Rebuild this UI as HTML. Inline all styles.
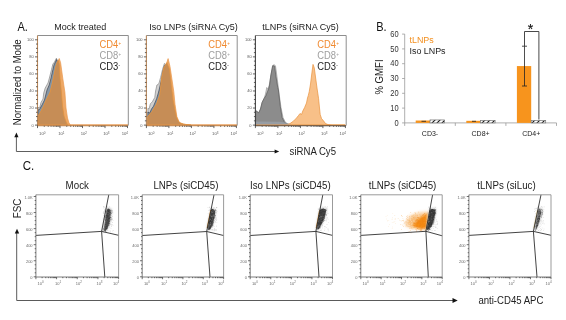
<!DOCTYPE html>
<html><head><meta charset="utf-8"><style>
html,body{margin:0;padding:0;background:#fff;width:566px;height:320px;overflow:hidden;}
svg{display:block;font-family:"Liberation Sans", sans-serif;filter:blur(0.3px);}
</style></head><body>
<svg width="566" height="320" viewBox="0 0 566 320">
<rect width="566" height="320" fill="#fff"/>
<path d="M37.90,125.0 L37.90,107.50 L39.75,107.50 L41.00,102.50 L43.00,99.00 L43.75,93.00 L45.20,88.00 L48.00,83.00 L49.40,78.00 L51.50,69.50 L52.90,64.00 L54.50,62.00 L56.40,58.20 L57.50,61.00 L59.00,66.00 L61.00,80.00 L63.00,104.00 L65.00,125.00 L65.00,125.0 Z" fill="#d0d0d0" stroke="#8a8a8a" stroke-width="0.7" fill-opacity="1"/>
<path d="M37.90,125.0 L37.90,110.00 L39.50,109.50 L42.00,105.00 L44.50,100.00 L46.00,94.00 L47.00,90.00 L49.20,85.00 L50.80,79.00 L52.60,71.00 L54.00,65.00 L55.50,62.00 L56.60,59.50 L57.50,62.00 L59.00,66.00 L61.00,80.00 L63.00,104.00 L65.00,125.00 L65.00,125.0 Z" fill="#8696a4" stroke="#3c4450" stroke-width="0.7" fill-opacity="1"/>
<path d="M37.90,125.0 L37.90,116.00 L39.00,115.30 L43.50,106.75 L46.60,99.50 L50.10,92.75 L52.20,84.30 L54.30,74.40 L55.70,67.40 L57.50,62.00 L59.25,58.50 L60.60,62.70 L62.75,78.20 L64.90,92.25 L66.00,108.00 L67.50,118.00 L69.00,123.00 L70.50,125.00 L128.00,125.00 L128.00,125.0 Z" fill="#eea865" stroke="#e99a50" stroke-width="0.7" fill-opacity="1"/>
<path d="M37.90,125.0 L37.90,115.50 L39.00,114.80 L43.50,106.25 L46.60,99.00 L50.10,92.25 L52.20,83.80 L54.30,73.90 L55.70,66.90 L57.20,62.00 L58.30,60.50 L59.20,64.00 L60.00,78.20 L61.40,92.25 L62.50,106.00 L64.00,116.00 L66.50,123.00 L68.00,125.00 L68.00,125.0 Z" fill="#c48c56" stroke="#e0903e" stroke-width="0.7" fill-opacity="0.97"/>
<path d="M37.5,35.5 H128.3 V125.6" fill="none" stroke="#7a7a7a" stroke-width="0.85"/>
<path d="M37.5,35.5 V125.6 H128.0" fill="none" stroke="#b8875a" stroke-width="1.1"/>
<path d="M35.00,125.10 H37.5 M36.00,120.83 H37.5 M36.00,116.57 H37.5 M36.00,112.30 H37.5 M35.00,108.04 H37.5 M36.00,103.77 H37.5 M36.00,99.51 H37.5 M36.00,95.24 H37.5 M35.00,90.98 H37.5 M36.00,86.72 H37.5 M36.00,82.45 H37.5 M36.00,78.19 H37.5 M35.00,73.92 H37.5 M36.00,69.66 H37.5 M36.00,65.39 H37.5 M36.00,61.12 H37.5 M35.00,56.86 H37.5 M36.00,52.59 H37.5 M36.00,48.33 H37.5 M36.00,44.06 H37.5 M35.00,39.80 H37.5 M37.50,125.6 V128.10 M44.27,125.6 V126.80 M48.24,125.6 V126.80 M51.05,125.6 V126.80 M53.23,125.6 V126.80 M55.01,125.6 V126.80 M56.51,125.6 V126.80 M57.82,125.6 V126.80 M58.97,125.6 V126.80 M60.00,125.6 V128.10 M66.77,125.6 V126.80 M70.74,125.6 V126.80 M73.55,125.6 V126.80 M75.73,125.6 V126.80 M77.51,125.6 V126.80 M79.01,125.6 V126.80 M80.32,125.6 V126.80 M81.47,125.6 V126.80 M82.50,125.6 V128.10 M89.27,125.6 V126.80 M93.24,125.6 V126.80 M96.05,125.6 V126.80 M98.23,125.6 V126.80 M100.01,125.6 V126.80 M101.51,125.6 V126.80 M102.82,125.6 V126.80 M103.97,125.6 V126.80 M105.00,125.6 V128.10 M111.77,125.6 V126.80 M115.74,125.6 V126.80 M118.55,125.6 V126.80 M120.73,125.6 V126.80 M122.51,125.6 V126.80 M124.01,125.6 V126.80 M125.32,125.6 V126.80 M126.47,125.6 V126.80 M127.50,125.6 V128.10 " stroke="#333" stroke-width="0.75" fill="none"/>
<path d="M38.1,125.1 H128.0" stroke="#eb9a50" stroke-width="0.7" fill="none" opacity="0.9"/>
<text transform="translate(33.70 126.50) scale(1 1.09)" font-size="4.0" fill="#5a5a5a" text-anchor="end" >0</text>
<text transform="translate(33.70 109.44) scale(1 1.09)" font-size="4.0" fill="#5a5a5a" text-anchor="end" >20</text>
<text transform="translate(33.70 92.38) scale(1 1.09)" font-size="4.0" fill="#5a5a5a" text-anchor="end" >40</text>
<text transform="translate(33.70 75.32) scale(1 1.09)" font-size="4.0" fill="#5a5a5a" text-anchor="end" >60</text>
<text transform="translate(33.70 58.26) scale(1 1.09)" font-size="4.0" fill="#5a5a5a" text-anchor="end" >80</text>
<text transform="translate(33.70 41.20) scale(1 1.09)" font-size="4.0" fill="#5a5a5a" text-anchor="end" >100</text>
<text x="39.10" y="135.40" font-size="4.2" fill="#5a5a5a">10<tspan dy="-1.8" font-size="3.0">0</tspan></text>
<text x="58.20" y="135.40" font-size="4.2" fill="#5a5a5a">10<tspan dy="-1.8" font-size="3.0">1</tspan></text>
<text x="80.70" y="135.40" font-size="4.2" fill="#5a5a5a">10<tspan dy="-1.8" font-size="3.0">2</tspan></text>
<text x="103.20" y="135.40" font-size="4.2" fill="#5a5a5a">10<tspan dy="-1.8" font-size="3.0">3</tspan></text>
<text x="121.70" y="135.40" font-size="4.2" fill="#5a5a5a">10<tspan dy="-1.8" font-size="3.0">4</tspan></text>
<text transform="translate(80.20 30.20) scale(1 1.09)" font-size="9.0" fill="#222" text-anchor="middle" >Mock treated</text>
<text transform="translate(99.40 47.60) scale(1 1.09)" font-size="9.4" fill="#f08a30" text-anchor="start" >CD4<tspan dx="0.2" dy="-2.6" font-size="4.6">+</tspan></text>
<text transform="translate(99.40 59.30) scale(1 1.09)" font-size="9.4" fill="#9e9e9e" text-anchor="start" >CD8<tspan dx="0.2" dy="-2.6" font-size="4.6">+</tspan></text>
<text transform="translate(99.40 69.70) scale(1 1.09)" font-size="9.4" fill="#222" text-anchor="start" >CD3<tspan dx="0.2" dy="-2.6" font-size="4.6">-</tspan></text>
<path d="M147.90,125.0 L147.90,108.50 L149.10,108.75 L150.40,103.75 L152.25,101.90 L154.75,97.50 L155.60,91.00 L156.90,85.00 L158.75,84.00 L160.60,77.50 L162.50,69.50 L164.40,63.50 L166.00,64.50 L168.00,72.00 L170.00,85.00 L172.00,104.00 L174.00,125.00 L174.00,125.0 Z" fill="#d0d0d0" stroke="#8a8a8a" stroke-width="0.7" fill-opacity="1"/>
<path d="M147.90,125.0 L147.90,112.00 L149.75,113.10 L151.50,109.00 L153.50,106.25 L156.60,98.75 L158.30,93.00 L159.10,90.00 L160.00,86.00 L161.50,79.50 L163.00,71.00 L164.60,65.50 L166.00,66.00 L168.00,74.00 L170.00,90.00 L172.00,108.00 L174.00,125.00 L174.00,125.0 Z" fill="#8696a4" stroke="#3c4450" stroke-width="0.7" fill-opacity="1"/>
<path d="M147.90,125.0 L147.90,116.75 L152.25,111.75 L156.60,104.25 L159.75,95.50 L160.50,90.50 L161.50,79.50 L163.75,68.25 L166.50,63.50 L168.10,58.60 L170.00,66.50 L171.90,79.00 L173.75,91.50 L175.00,104.25 L176.90,116.75 L179.40,122.40 L183.75,124.25 L191.25,125.00 L237.00,125.00 L237.00,125.0 Z" fill="#eea865" stroke="#e99a50" stroke-width="0.7" fill-opacity="1"/>
<path d="M147.90,125.0 L147.90,116.25 L152.25,111.25 L156.60,103.75 L159.75,95.00 L160.50,90.00 L161.50,79.00 L163.75,67.75 L166.90,62.75 L169.40,69.00 L170.60,79.00 L171.90,90.25 L173.10,100.00 L175.00,110.00 L176.50,117.00 L178.50,121.50 L181.00,123.50 L186.00,124.50 L191.00,125.00 L191.00,125.0 Z" fill="#c48c56" stroke="#e0903e" stroke-width="0.7" fill-opacity="0.97"/>
<path d="M146.4,35.5 H237.20000000000002 V125.6" fill="none" stroke="#7a7a7a" stroke-width="0.85"/>
<path d="M146.4,35.5 V125.6 H236.9" fill="none" stroke="#b8875a" stroke-width="1.1"/>
<path d="M143.90,125.10 H146.4 M144.90,120.83 H146.4 M144.90,116.57 H146.4 M144.90,112.30 H146.4 M143.90,108.04 H146.4 M144.90,103.77 H146.4 M144.90,99.51 H146.4 M144.90,95.24 H146.4 M143.90,90.98 H146.4 M144.90,86.72 H146.4 M144.90,82.45 H146.4 M144.90,78.19 H146.4 M143.90,73.92 H146.4 M144.90,69.66 H146.4 M144.90,65.39 H146.4 M144.90,61.12 H146.4 M143.90,56.86 H146.4 M144.90,52.59 H146.4 M144.90,48.33 H146.4 M144.90,44.06 H146.4 M143.90,39.80 H146.4 M146.40,125.6 V128.10 M153.17,125.6 V126.80 M157.14,125.6 V126.80 M159.95,125.6 V126.80 M162.13,125.6 V126.80 M163.91,125.6 V126.80 M165.41,125.6 V126.80 M166.72,125.6 V126.80 M167.87,125.6 V126.80 M168.90,125.6 V128.10 M175.67,125.6 V126.80 M179.64,125.6 V126.80 M182.45,125.6 V126.80 M184.63,125.6 V126.80 M186.41,125.6 V126.80 M187.91,125.6 V126.80 M189.22,125.6 V126.80 M190.37,125.6 V126.80 M191.40,125.6 V128.10 M198.17,125.6 V126.80 M202.14,125.6 V126.80 M204.95,125.6 V126.80 M207.13,125.6 V126.80 M208.91,125.6 V126.80 M210.41,125.6 V126.80 M211.72,125.6 V126.80 M212.87,125.6 V126.80 M213.90,125.6 V128.10 M220.67,125.6 V126.80 M224.64,125.6 V126.80 M227.45,125.6 V126.80 M229.63,125.6 V126.80 M231.41,125.6 V126.80 M232.91,125.6 V126.80 M234.22,125.6 V126.80 M235.37,125.6 V126.80 M236.40,125.6 V128.10 " stroke="#333" stroke-width="0.75" fill="none"/>
<path d="M147.0,125.1 H236.9" stroke="#eb9a50" stroke-width="0.7" fill="none" opacity="0.9"/>
<text transform="translate(142.60 126.50) scale(1 1.09)" font-size="4.0" fill="#5a5a5a" text-anchor="end" >0</text>
<text transform="translate(142.60 109.44) scale(1 1.09)" font-size="4.0" fill="#5a5a5a" text-anchor="end" >20</text>
<text transform="translate(142.60 92.38) scale(1 1.09)" font-size="4.0" fill="#5a5a5a" text-anchor="end" >40</text>
<text transform="translate(142.60 75.32) scale(1 1.09)" font-size="4.0" fill="#5a5a5a" text-anchor="end" >60</text>
<text transform="translate(142.60 58.26) scale(1 1.09)" font-size="4.0" fill="#5a5a5a" text-anchor="end" >80</text>
<text transform="translate(142.60 41.20) scale(1 1.09)" font-size="4.0" fill="#5a5a5a" text-anchor="end" >100</text>
<text x="148.00" y="135.40" font-size="4.2" fill="#5a5a5a">10<tspan dy="-1.8" font-size="3.0">0</tspan></text>
<text x="167.10" y="135.40" font-size="4.2" fill="#5a5a5a">10<tspan dy="-1.8" font-size="3.0">1</tspan></text>
<text x="189.60" y="135.40" font-size="4.2" fill="#5a5a5a">10<tspan dy="-1.8" font-size="3.0">2</tspan></text>
<text x="212.10" y="135.40" font-size="4.2" fill="#5a5a5a">10<tspan dy="-1.8" font-size="3.0">3</tspan></text>
<text x="230.60" y="135.40" font-size="4.2" fill="#5a5a5a">10<tspan dy="-1.8" font-size="3.0">4</tspan></text>
<text transform="translate(193.50 30.20) scale(1 1.09)" font-size="9.0" fill="#222" text-anchor="middle" >Iso LNPs (siRNA Cy5)</text>
<text transform="translate(208.30 47.60) scale(1 1.09)" font-size="9.4" fill="#f08a30" text-anchor="start" >CD4<tspan dx="0.2" dy="-2.6" font-size="4.6">+</tspan></text>
<text transform="translate(208.30 59.30) scale(1 1.09)" font-size="9.4" fill="#9e9e9e" text-anchor="start" >CD8<tspan dx="0.2" dy="-2.6" font-size="4.6">+</tspan></text>
<text transform="translate(208.30 69.70) scale(1 1.09)" font-size="9.4" fill="#222" text-anchor="start" >CD3<tspan dx="0.2" dy="-2.6" font-size="4.6">-</tspan></text>
<path d="M255.60,125.0 L255.60,110.50 L258.70,112.80 L260.50,109.00 L262.10,102.50 L264.10,98.40 L265.50,94.00 L266.75,87.50 L268.00,89.50 L269.25,85.00 L270.50,77.50 L272.50,66.25 L274.00,64.50 L275.50,66.00 L276.75,75.00 L278.00,85.00 L279.25,95.00 L281.00,107.50 L283.00,117.50 L285.50,122.50 L289.25,124.50 L291.00,125.00 L291.00,125.0 Z" fill="#c8c8c8" stroke="#9a9a9a" stroke-width="0.7" fill-opacity="1"/>
<path d="M255.60,125.0 L255.60,110.50 L258.70,112.80 L260.50,109.00 L262.10,102.50 L264.10,98.40 L265.80,96.00 L267.50,91.50 L268.60,89.00 L269.60,85.00 L270.90,75.00 L272.75,65.60 L274.60,66.25 L275.90,76.25 L277.75,87.50 L278.40,90.00 L280.25,106.25 L282.10,117.50 L284.60,122.50 L287.75,124.40 L290.00,125.00 L290.00,125.0 Z" fill="#8c8c8c" stroke="#5a5a5a" stroke-width="0.7" fill-opacity="1"/>
<path d="M255.40,125.0 L255.40,125.00 L286.00,124.80 L290.00,123.60 L293.60,121.00 L296.50,118.00 L298.50,115.50 L300.00,113.50 L301.50,114.50 L302.80,111.00 L304.60,107.50 L306.50,103.00 L307.50,98.00 L308.30,95.50 L309.25,91.50 L310.50,84.00 L311.75,74.00 L313.00,64.40 L314.30,68.00 L315.50,77.00 L317.00,88.00 L318.60,98.75 L319.50,108.00 L320.20,114.40 L321.50,118.50 L323.30,120.60 L325.50,123.50 L328.00,124.60 L332.00,125.00 L345.00,125.00 L345.00,125.0 Z" fill="#f8c088" stroke="#e8923e" stroke-width="0.7" fill-opacity="1"/>
<path d="M255.6,121.5 L280,121.8 L286,122.8 L291,124.6 L291,125 L255.6,125 Z" fill="#a0acb8" opacity="0.55"/>
<path d="M255.4,35.5 H346.2 V125.6" fill="none" stroke="#7a7a7a" stroke-width="0.85"/>
<path d="M255.4,35.5 V125.6 H345.9" fill="none" stroke="#444" stroke-width="1.1"/>
<path d="M252.90,125.10 H255.4 M253.90,120.83 H255.4 M253.90,116.57 H255.4 M253.90,112.30 H255.4 M252.90,108.04 H255.4 M253.90,103.77 H255.4 M253.90,99.51 H255.4 M253.90,95.24 H255.4 M252.90,90.98 H255.4 M253.90,86.72 H255.4 M253.90,82.45 H255.4 M253.90,78.19 H255.4 M252.90,73.92 H255.4 M253.90,69.66 H255.4 M253.90,65.39 H255.4 M253.90,61.12 H255.4 M252.90,56.86 H255.4 M253.90,52.59 H255.4 M253.90,48.33 H255.4 M253.90,44.06 H255.4 M252.90,39.80 H255.4 M255.40,125.6 V128.10 M262.17,125.6 V126.80 M266.14,125.6 V126.80 M268.95,125.6 V126.80 M271.13,125.6 V126.80 M272.91,125.6 V126.80 M274.41,125.6 V126.80 M275.72,125.6 V126.80 M276.87,125.6 V126.80 M277.90,125.6 V128.10 M284.67,125.6 V126.80 M288.64,125.6 V126.80 M291.45,125.6 V126.80 M293.63,125.6 V126.80 M295.41,125.6 V126.80 M296.91,125.6 V126.80 M298.22,125.6 V126.80 M299.37,125.6 V126.80 M300.40,125.6 V128.10 M307.17,125.6 V126.80 M311.14,125.6 V126.80 M313.95,125.6 V126.80 M316.13,125.6 V126.80 M317.91,125.6 V126.80 M319.41,125.6 V126.80 M320.72,125.6 V126.80 M321.87,125.6 V126.80 M322.90,125.6 V128.10 M329.67,125.6 V126.80 M333.64,125.6 V126.80 M336.45,125.6 V126.80 M338.63,125.6 V126.80 M340.41,125.6 V126.80 M341.91,125.6 V126.80 M343.22,125.6 V126.80 M344.37,125.6 V126.80 M345.40,125.6 V128.10 " stroke="#333" stroke-width="0.75" fill="none"/>
<path d="M256.0,125.1 H345.9" stroke="#eb9a50" stroke-width="0.7" fill="none" opacity="0.9"/>
<text transform="translate(251.60 126.50) scale(1 1.09)" font-size="4.0" fill="#5a5a5a" text-anchor="end" >0</text>
<text transform="translate(251.60 109.44) scale(1 1.09)" font-size="4.0" fill="#5a5a5a" text-anchor="end" >20</text>
<text transform="translate(251.60 92.38) scale(1 1.09)" font-size="4.0" fill="#5a5a5a" text-anchor="end" >40</text>
<text transform="translate(251.60 75.32) scale(1 1.09)" font-size="4.0" fill="#5a5a5a" text-anchor="end" >60</text>
<text transform="translate(251.60 58.26) scale(1 1.09)" font-size="4.0" fill="#5a5a5a" text-anchor="end" >80</text>
<text transform="translate(251.60 41.20) scale(1 1.09)" font-size="4.0" fill="#5a5a5a" text-anchor="end" >100</text>
<text x="257.00" y="135.40" font-size="4.2" fill="#5a5a5a">10<tspan dy="-1.8" font-size="3.0">0</tspan></text>
<text x="276.10" y="135.40" font-size="4.2" fill="#5a5a5a">10<tspan dy="-1.8" font-size="3.0">1</tspan></text>
<text x="298.60" y="135.40" font-size="4.2" fill="#5a5a5a">10<tspan dy="-1.8" font-size="3.0">2</tspan></text>
<text x="321.10" y="135.40" font-size="4.2" fill="#5a5a5a">10<tspan dy="-1.8" font-size="3.0">3</tspan></text>
<text x="339.60" y="135.40" font-size="4.2" fill="#5a5a5a">10<tspan dy="-1.8" font-size="3.0">4</tspan></text>
<text transform="translate(300.50 30.20) scale(1 1.09)" font-size="9.0" fill="#222" text-anchor="middle" >tLNPs (siRNA Cy5)</text>
<text transform="translate(317.30 47.60) scale(1 1.09)" font-size="9.4" fill="#f08a30" text-anchor="start" >CD4<tspan dx="0.2" dy="-2.6" font-size="4.6">+</tspan></text>
<text transform="translate(317.30 59.30) scale(1 1.09)" font-size="9.4" fill="#9e9e9e" text-anchor="start" >CD8<tspan dx="0.2" dy="-2.6" font-size="4.6">+</tspan></text>
<text transform="translate(317.30 69.70) scale(1 1.09)" font-size="9.4" fill="#222" text-anchor="start" >CD3<tspan dx="0.2" dy="-2.6" font-size="4.6">-</tspan></text>
<text transform="translate(17.50 30.60) scale(1 1.09)" font-size="11" fill="#111" text-anchor="start" >A.</text>
<text transform="translate(21.20 125.20) rotate(-90) scale(1 1.09)" font-size="9.6" fill="#222" text-anchor="start" >Normalized to Mode</text>
<path d="M16.4,151.5 V136.5 M16.4,151.5 H275" stroke="#555" stroke-width="0.95" fill="none"/>
<path d="M16.4,132.6 L14.3,137.2 L18.5,137.2 Z" fill="#111"/>
<path d="M279.2,151.5 L274.6,149.4 L274.6,153.6 Z" fill="#111"/>
<text transform="translate(289.60 155.10) scale(1 1.09)" font-size="9.6" fill="#222" text-anchor="start" >siRNA Cy5</text>
<text transform="translate(376.20 30.50) scale(1 1.09)" font-size="11" fill="#111" text-anchor="start" >B.</text>
<path d="M404.7,34.10000000000001 V122.9 H556.5" stroke="#999" stroke-width="0.8" fill="none"/>
<path d="M402.09999999999997,122.90 H404.7 M402.09999999999997,108.10 H404.7 M402.09999999999997,93.30 H404.7 M402.09999999999997,78.50 H404.7 M402.09999999999997,63.70 H404.7 M402.09999999999997,48.90 H404.7 M402.09999999999997,34.10 H404.7 M404.70,122.9 V125.9 M455.30,122.9 V125.9 M505.90,122.9 V125.9 M556.50,122.9 V125.9 " stroke="#999" stroke-width="0.8" fill="none"/>
<text transform="translate(398.60 125.50) scale(1 1.09)" font-size="7.5" fill="#333" text-anchor="end" >0</text>
<text transform="translate(398.60 110.70) scale(1 1.09)" font-size="7.5" fill="#333" text-anchor="end" >10</text>
<text transform="translate(398.60 95.90) scale(1 1.09)" font-size="7.5" fill="#333" text-anchor="end" >20</text>
<text transform="translate(398.60 81.10) scale(1 1.09)" font-size="7.5" fill="#333" text-anchor="end" >30</text>
<text transform="translate(398.60 66.30) scale(1 1.09)" font-size="7.5" fill="#333" text-anchor="end" >40</text>
<text transform="translate(398.60 51.50) scale(1 1.09)" font-size="7.5" fill="#333" text-anchor="end" >50</text>
<text transform="translate(398.60 36.70) scale(1 1.09)" font-size="7.5" fill="#333" text-anchor="end" >60</text>
<text transform="translate(382.90 94.60) rotate(-90) scale(1 1.09)" font-size="9.6" fill="#222" text-anchor="start" >% GMFI</text>
<text transform="translate(409.50 43.00) scale(1 1.09)" font-size="8.9" fill="#f39020" text-anchor="start" >tLNPs</text>
<text transform="translate(409.50 54.20) scale(1 1.09)" font-size="8.9" fill="#222" text-anchor="start" >Iso LNPs</text>
<defs><pattern id="hatch" width="5" height="5" patternUnits="userSpaceOnUse"><rect width="5" height="5" fill="#fff"/><path d="M-1,1 L1,-1 M0,5 L5,0 M4,6 L6,4" stroke="#111" stroke-width="1.1"/></pattern></defs>
<rect x="415.70" y="120.53" width="14.3" height="2.37" fill="#f7941d"/>
<rect x="430.00" y="119.94" width="14.5" height="2.96" fill="url(#hatch)" stroke="#777" stroke-width="0.7"/>
<text transform="translate(430.00 135.90) scale(1 1.09)" font-size="7.0" fill="#222" text-anchor="middle" >CD3-</text>
<rect x="466.30" y="120.83" width="14.3" height="2.07" fill="#f7941d"/>
<rect x="480.60" y="120.38" width="14.5" height="2.52" fill="url(#hatch)" stroke="#777" stroke-width="0.7"/>
<text transform="translate(480.60 135.90) scale(1 1.09)" font-size="7.0" fill="#222" text-anchor="middle" >CD8+</text>
<rect x="516.90" y="66.07" width="14.3" height="56.83" fill="#f7941d"/>
<rect x="531.20" y="120.53" width="14.5" height="2.37" fill="url(#hatch)" stroke="#777" stroke-width="0.7"/>
<text transform="translate(531.20 135.90) scale(1 1.09)" font-size="7.0" fill="#222" text-anchor="middle" >CD4+</text>
<path d="M421.5,121.3 H426 M472,121.3 H476" stroke="#222" stroke-width="0.8"/>
<path d="M524.5,46.2 V86 M522,46.2 H527 M522,86 H527" stroke="#222" stroke-width="0.8" fill="none"/>
<path d="M524.5,46.2 V31.5 H538.9 V119.5" stroke="#333" stroke-width="0.9" fill="none"/>
<text transform="translate(530.40 33.90) scale(1 1.0)" font-size="14" fill="#111" text-anchor="middle" stroke="#111" stroke-width="0.15">*</text>
<text transform="translate(22.80 169.80) scale(1 1.09)" font-size="11.5" fill="#111" text-anchor="start" >C.</text>
<defs><filter id="bl" x="-30%" y="-30%" width="160%" height="160%"><feGaussianBlur stdDeviation="0.55"/></filter><filter id="bl2" x="-30%" y="-30%" width="160%" height="160%"><feGaussianBlur stdDeviation="1.6"/></filter><filter id="bl3" x="-30%" y="-30%" width="160%" height="160%"><feGaussianBlur stdDeviation="1.0"/></filter></defs>
<polygon points="106.1,208.8 108.4,207.6 111.4,209.0 111.8,211.5 110.8,219.0 109.6,224.5 107.0,229.5 104.2,232.2 102.2,231.2 103.3,225.0" fill="#8a8a8a" fill-opacity="0.55" filter="url(#bl3)"/>
<polygon points="106.7,209.7 108.4,208.6 110.6,209.9 110.9,212.2 110.1,219.1 109.2,224.1 107.3,228.7 105.3,231.2 103.8,230.3 104.6,224.6" fill="#424242" fill-opacity="0.95" filter="url(#bl)"/>
<path d="M107.2,227.7h.8v.8h-.8zM103.2,228.5h.8v.8h-.8zM109.9,217.3h.8v.8h-.8zM108.9,217.9h.8v.8h-.8zM109.0,221.2h.8v.8h-.8zM106.9,216.5h.8v.8h-.8zM105.4,215.2h.8v.8h-.8zM107.6,218.7h.8v.8h-.8zM111.5,210.3h.8v.8h-.8zM105.5,215.7h.8v.8h-.8zM108.2,215.4h.8v.8h-.8zM106.6,211.9h.8v.8h-.8zM110.7,218.6h.8v.8h-.8zM108.5,209.5h.8v.8h-.8zM111.5,211.6h.8v.8h-.8zM105.4,217.0h.8v.8h-.8zM108.6,212.6h.8v.8h-.8zM105.0,231.0h.8v.8h-.8zM106.3,211.2h.8v.8h-.8zM109.3,219.5h.8v.8h-.8zM111.0,213.2h.8v.8h-.8zM108.7,224.4h.8v.8h-.8zM103.4,228.6h.8v.8h-.8zM105.9,225.9h.8v.8h-.8zM108.0,210.7h.8v.8h-.8zM110.5,220.5h.8v.8h-.8zM107.0,215.2h.8v.8h-.8zM105.7,212.4h.8v.8h-.8zM107.6,210.2h.8v.8h-.8zM106.0,215.4h.8v.8h-.8zM104.8,219.3h.8v.8h-.8zM109.2,222.9h.8v.8h-.8zM105.9,220.9h.8v.8h-.8zM108.2,218.2h.8v.8h-.8zM104.0,229.4h.8v.8h-.8zM107.5,213.1h.8v.8h-.8zM106.1,228.0h.8v.8h-.8zM105.8,215.8h.8v.8h-.8zM107.2,213.3h.8v.8h-.8zM103.8,227.9h.8v.8h-.8zM108.1,211.1h.8v.8h-.8zM108.5,224.9h.8v.8h-.8zM109.5,213.6h.8v.8h-.8zM105.9,220.6h.8v.8h-.8zM110.6,216.9h.8v.8h-.8zM108.3,215.9h.8v.8h-.8zM105.3,216.5h.8v.8h-.8zM107.5,220.5h.8v.8h-.8zM109.5,214.0h.8v.8h-.8zM108.9,216.2h.8v.8h-.8zM109.8,217.1h.8v.8h-.8zM110.5,219.3h.8v.8h-.8zM106.7,215.9h.8v.8h-.8z" fill="#2a2a2a" fill-opacity="0.6"/>
<path d="M106.1,210.0h.7v.7h-.7zM103.3,219.3h.6v.6h-.6zM107.3,207.9h.6v.6h-.6zM105.1,222.5h.7v.7h-.7zM108.8,216.5h.7v.7h-.7zM104.2,209.2h.6v.6h-.6zM111.4,210.8h.7v.7h-.7zM109.5,215.8h.7v.7h-.7zM103.4,207.7h.6v.6h-.6zM111.1,224.3h.6v.6h-.6zM108.8,219.8h.7v.7h-.7zM110.4,213.6h.7v.7h-.7zM104.3,218.9h.6v.6h-.6zM105.7,216.2h.7v.7h-.7zM102.9,218.2h.6v.6h-.6zM106.5,229.2h.7v.7h-.7zM104.3,210.7h.6v.6h-.6zM105.2,218.8h.7v.7h-.7zM106.6,220.9h.7v.7h-.7zM110.0,219.6h.7v.7h-.7zM109.4,207.7h.6v.6h-.6zM104.9,210.3h.6v.6h-.6zM103.3,206.1h.6v.6h-.6zM103.8,215.6h.6v.6h-.6zM112.0,222.1h.6v.6h-.6zM104.0,228.3h.7v.7h-.7zM103.8,215.0h.6v.6h-.6zM112.8,219.9h.6v.6h-.6zM106.2,211.9h.7v.7h-.7zM111.4,225.4h.6v.6h-.6zM103.0,213.4h.6v.6h-.6zM109.6,227.0h.6v.6h-.6zM111.1,214.8h.7v.7h-.7zM112.7,225.0h.6v.6h-.6zM111.2,209.9h.7v.7h-.7zM105.8,212.4h.7v.7h-.7zM104.5,218.5h.7v.7h-.7zM108.6,214.6h.7v.7h-.7zM108.6,226.6h.6v.6h-.6zM109.2,219.3h.7v.7h-.7zM110.0,217.9h.7v.7h-.7zM112.0,230.7h.6v.6h-.6zM103.5,212.4h.6v.6h-.6zM104.3,224.8h.7v.7h-.7zM104.2,229.1h.7v.7h-.7zM107.4,206.6h.6v.6h-.6zM103.8,213.0h.6v.6h-.6zM103.5,230.6h.7v.7h-.7zM106.3,220.5h.7v.7h-.7zM105.2,209.0h.6v.6h-.6zM103.2,211.4h.6v.6h-.6zM102.9,212.6h.6v.6h-.6zM107.7,230.5h.6v.6h-.6zM110.0,231.7h.6v.6h-.6zM105.4,210.4h.6v.6h-.6zM108.5,212.5h.7v.7h-.7zM106.7,218.5h.7v.7h-.7zM103.1,206.7h.6v.6h-.6zM105.2,221.4h.7v.7h-.7zM112.0,216.3h.6v.6h-.6zM111.3,209.7h.7v.7h-.7zM109.9,224.2h.6v.6h-.6zM103.8,227.9h.7v.7h-.7zM109.4,222.4h.7v.7h-.7zM110.6,219.2h.7v.7h-.7zM105.4,208.0h.6v.6h-.6zM110.4,211.5h.7v.7h-.7zM107.8,223.9h.7v.7h-.7zM110.0,223.7h.6v.6h-.6zM113.1,230.5h.6v.6h-.6zM107.6,227.5h.7v.7h-.7zM104.1,227.5h.7v.7h-.7zM112.1,224.5h.6v.6h-.6zM112.2,218.8h.6v.6h-.6zM105.9,209.8h.6v.6h-.6zM110.7,228.0h.6v.6h-.6zM112.6,212.6h.6v.6h-.6zM110.5,217.9h.7v.7h-.7zM106.3,213.9h.7v.7h-.7zM104.5,210.3h.6v.6h-.6zM112.3,219.1h.6v.6h-.6zM104.2,211.1h.6v.6h-.6zM106.3,208.5h.6v.6h-.6zM105.4,221.0h.7v.7h-.7zM111.8,211.7h.6v.6h-.6zM105.3,208.9h.6v.6h-.6zM108.2,223.9h.7v.7h-.7zM111.0,212.2h.7v.7h-.7zM105.4,222.7h.7v.7h-.7zM109.1,206.4h.6v.6h-.6zM112.1,218.5h.6v.6h-.6zM109.8,230.2h.6v.6h-.6zM109.9,211.3h.7v.7h-.7zM109.8,230.9h.6v.6h-.6zM106.9,211.7h.7v.7h-.7zM104.2,207.5h.6v.6h-.6zM106.9,229.5h.7v.7h-.7zM106.2,210.9h.7v.7h-.7zM104.5,206.2h.6v.6h-.6zM106.4,231.0h.6v.6h-.6zM111.3,226.1h.6v.6h-.6zM105.4,225.6h.7v.7h-.7zM106.3,213.2h.7v.7h-.7zM109.2,212.9h.7v.7h-.7z" fill="#a0a0a0" fill-opacity="0.6"/>
<path d="M108.75,194.8 L101.6,231.4 L104.8,277.0 M35.9,235.4 L101.6,231.4 L118.6,235.3" stroke="#222" stroke-width="0.85" fill="none"/>
<path d="M35.9,194.8 H118.6 V277.0" fill="none" stroke="#909090" stroke-width="0.9"/><path d="M35.9,194.8 V277.0 H118.6" fill="none" stroke="#707070" stroke-width="0.9"/>
<path d="M33.70,276.80 H35.9 M34.70,272.79 H35.9 M34.70,268.77 H35.9 M34.70,264.75 H35.9 M33.70,260.74 H35.9 M34.70,256.73 H35.9 M34.70,252.71 H35.9 M34.70,248.69 H35.9 M33.70,244.68 H35.9 M34.70,240.67 H35.9 M34.70,236.65 H35.9 M34.70,232.63 H35.9 M33.70,228.62 H35.9 M34.70,224.61 H35.9 M34.70,220.59 H35.9 M34.70,216.57 H35.9 M33.70,212.56 H35.9 M34.70,208.55 H35.9 M34.70,204.53 H35.9 M34.70,200.51 H35.9 M33.70,196.50 H35.9 M35.90,277.0 V279.20 M42.12,277.0 V278.20 M45.76,277.0 V278.20 M48.35,277.0 V278.20 M50.35,277.0 V278.20 M51.99,277.0 V278.20 M53.37,277.0 V278.20 M54.57,277.0 V278.20 M55.63,277.0 V278.20 M56.57,277.0 V279.20 M62.80,277.0 V278.20 M66.44,277.0 V278.20 M69.02,277.0 V278.20 M71.03,277.0 V278.20 M72.66,277.0 V278.20 M74.05,277.0 V278.20 M75.25,277.0 V278.20 M76.30,277.0 V278.20 M77.25,277.0 V279.20 M83.47,277.0 V278.20 M87.11,277.0 V278.20 M89.70,277.0 V278.20 M91.70,277.0 V278.20 M93.34,277.0 V278.20 M94.72,277.0 V278.20 M95.92,277.0 V278.20 M96.98,277.0 V278.20 M97.92,277.0 V279.20 M104.15,277.0 V278.20 M107.79,277.0 V278.20 M110.37,277.0 V278.20 M112.38,277.0 V278.20 M114.01,277.0 V278.20 M115.40,277.0 V278.20 M116.60,277.0 V278.20 M117.65,277.0 V278.20 M118.60,277.0 V279.20 " stroke="#333" stroke-width="0.7" fill="none"/>
<text transform="translate(32.60 279.00) scale(1 1.09)" font-size="4.0" fill="#6a6a6a" text-anchor="end" >0</text>
<text transform="translate(32.60 262.94) scale(1 1.09)" font-size="4.0" fill="#6a6a6a" text-anchor="end" >200</text>
<text transform="translate(32.60 246.88) scale(1 1.09)" font-size="4.0" fill="#6a6a6a" text-anchor="end" >400</text>
<text transform="translate(32.60 230.82) scale(1 1.09)" font-size="4.0" fill="#6a6a6a" text-anchor="end" >600</text>
<text transform="translate(32.60 214.76) scale(1 1.09)" font-size="4.0" fill="#6a6a6a" text-anchor="end" >800</text>
<text transform="translate(32.60 198.70) scale(1 1.09)" font-size="4.0" fill="#6a6a6a" text-anchor="end" >1.0K</text>
<text x="37.60" y="285.00" font-size="4.0" fill="#6a6a6a">10<tspan dy="-1.6" font-size="3.0">0</tspan></text>
<text x="55.07" y="285.00" font-size="4.0" fill="#6a6a6a">10<tspan dy="-1.6" font-size="3.0">1</tspan></text>
<text x="75.75" y="285.00" font-size="4.0" fill="#6a6a6a">10<tspan dy="-1.6" font-size="3.0">2</tspan></text>
<text x="96.42" y="285.00" font-size="4.0" fill="#6a6a6a">10<tspan dy="-1.6" font-size="3.0">3</tspan></text>
<text x="113.10" y="285.00" font-size="4.0" fill="#6a6a6a">10<tspan dy="-1.6" font-size="3.0">4</tspan></text>
<text transform="translate(77.25 189.20) scale(1 1.09)" font-size="9.75" fill="#222" text-anchor="middle" >Mock</text>
<path d="M210.7,210 L207.1,228" stroke="#e0902a" stroke-width="1.0" filter="url(#bl)"/>
<polygon points="211.0,209.0 213.0,208.2 215.4,209.6 215.6,213.5 214.0,220.5 212.3,226.0 210.0,229.6 207.6,230.8 207.1,228.0 208.4,221.0" fill="#8a8a8a" fill-opacity="0.55" filter="url(#bl3)"/>
<polygon points="211.3,209.8 212.9,209.1 214.8,210.4 215.0,214.0 213.7,220.4 212.3,225.5 210.5,228.8 208.6,229.9 208.2,227.3 209.2,220.9" fill="#3e3e3e" fill-opacity="0.95" filter="url(#bl)"/>
<path d="M210.6,213.3h.8v.8h-.8zM211.3,212.8h.8v.8h-.8zM214.3,217.5h.8v.8h-.8zM211.6,221.6h.8v.8h-.8zM208.8,227.0h.8v.8h-.8zM209.1,228.0h.8v.8h-.8zM213.3,221.6h.8v.8h-.8zM211.1,210.1h.8v.8h-.8zM210.0,221.1h.8v.8h-.8zM214.0,211.2h.8v.8h-.8zM209.5,225.9h.8v.8h-.8zM212.8,222.1h.8v.8h-.8zM209.2,223.5h.8v.8h-.8zM210.6,220.4h.8v.8h-.8zM211.6,226.5h.8v.8h-.8zM211.1,218.9h.8v.8h-.8zM208.1,229.0h.8v.8h-.8zM209.1,225.6h.8v.8h-.8zM212.5,215.9h.8v.8h-.8zM208.0,226.9h.8v.8h-.8zM213.3,220.0h.8v.8h-.8zM210.5,216.8h.8v.8h-.8zM211.6,222.6h.8v.8h-.8zM212.1,209.3h.8v.8h-.8zM211.7,208.9h.8v.8h-.8zM209.1,228.3h.8v.8h-.8zM215.3,210.2h.8v.8h-.8zM212.4,214.4h.8v.8h-.8zM215.1,209.5h.8v.8h-.8zM211.3,225.9h.8v.8h-.8zM213.2,222.7h.8v.8h-.8zM213.5,217.1h.8v.8h-.8zM211.0,209.3h.8v.8h-.8zM209.7,220.8h.8v.8h-.8zM209.5,221.7h.8v.8h-.8zM208.9,229.3h.8v.8h-.8zM212.9,215.1h.8v.8h-.8zM210.0,228.5h.8v.8h-.8zM212.6,216.5h.8v.8h-.8zM208.2,225.5h.8v.8h-.8zM209.5,221.4h.8v.8h-.8zM210.5,213.9h.8v.8h-.8zM212.0,224.6h.8v.8h-.8zM210.1,220.0h.8v.8h-.8zM209.6,221.7h.8v.8h-.8zM208.6,229.1h.8v.8h-.8zM214.4,215.6h.8v.8h-.8zM211.7,225.3h.8v.8h-.8zM209.4,218.6h.8v.8h-.8zM212.3,209.3h.8v.8h-.8zM208.4,225.7h.8v.8h-.8zM208.4,228.1h.8v.8h-.8zM209.8,217.8h.8v.8h-.8zM210.9,214.6h.8v.8h-.8zM213.1,209.7h.8v.8h-.8zM210.7,219.3h.8v.8h-.8zM209.5,222.1h.8v.8h-.8zM209.6,216.1h.8v.8h-.8zM211.4,225.8h.8v.8h-.8zM212.4,221.9h.8v.8h-.8zM208.9,221.2h.8v.8h-.8zM210.6,221.8h.8v.8h-.8zM213.6,212.7h.8v.8h-.8zM211.9,221.7h.8v.8h-.8zM209.6,223.2h.8v.8h-.8zM211.6,223.5h.8v.8h-.8zM213.6,218.0h.8v.8h-.8zM212.0,213.8h.8v.8h-.8zM208.8,226.8h.8v.8h-.8zM210.0,217.0h.8v.8h-.8zM209.9,214.0h.8v.8h-.8zM211.7,222.1h.8v.8h-.8zM215.0,215.0h.8v.8h-.8zM212.6,224.6h.8v.8h-.8zM212.3,218.7h.8v.8h-.8zM212.0,220.3h.8v.8h-.8zM211.1,218.1h.8v.8h-.8zM214.9,211.8h.8v.8h-.8zM210.4,226.6h.8v.8h-.8zM212.4,213.2h.8v.8h-.8zM210.7,214.3h.8v.8h-.8z" fill="#2a2a2a" fill-opacity="0.6"/>
<path d="M216.6,207.3h.6v.6h-.6zM212.3,229.1h.6v.6h-.6zM214.9,221.3h.6v.6h-.6zM210.6,215.4h.7v.7h-.7zM209.9,208.3h.6v.6h-.6zM212.8,214.6h.7v.7h-.7zM216.0,230.5h.6v.6h-.6zM213.0,215.7h.7v.7h-.7zM209.5,212.7h.6v.6h-.6zM210.7,216.2h.7v.7h-.7zM212.4,212.3h.7v.7h-.7zM213.8,230.6h.6v.6h-.6zM216.3,207.7h.6v.6h-.6zM215.8,217.5h.6v.6h-.6zM215.0,229.5h.6v.6h-.6zM209.5,207.0h.6v.6h-.6zM210.3,214.1h.7v.7h-.7zM211.1,211.5h.7v.7h-.7zM216.0,217.8h.6v.6h-.6zM210.3,219.3h.7v.7h-.7zM216.8,211.5h.6v.6h-.6zM211.4,227.1h.7v.7h-.7zM209.9,224.2h.7v.7h-.7zM212.3,212.4h.7v.7h-.7zM215.0,217.7h.6v.6h-.6zM208.4,224.4h.7v.7h-.7zM211.2,229.6h.6v.6h-.6zM215.3,211.4h.7v.7h-.7zM209.2,225.7h.7v.7h-.7zM216.3,211.7h.6v.6h-.6zM214.1,228.3h.6v.6h-.6zM213.6,215.4h.7v.7h-.7zM212.9,220.7h.7v.7h-.7zM214.9,217.4h.6v.6h-.6zM210.0,222.1h.7v.7h-.7zM207.6,207.5h.6v.6h-.6zM216.1,209.9h.6v.6h-.6zM213.8,207.2h.6v.6h-.6zM212.8,229.4h.6v.6h-.6zM213.7,226.3h.6v.6h-.6zM207.7,227.1h.7v.7h-.7zM209.7,209.2h.6v.6h-.6zM215.1,219.3h.6v.6h-.6zM213.7,230.0h.6v.6h-.6zM216.0,207.1h.6v.6h-.6zM209.8,224.6h.7v.7h-.7zM214.7,214.6h.7v.7h-.7zM210.7,212.5h.7v.7h-.7zM214.5,220.4h.6v.6h-.6zM216.3,210.2h.6v.6h-.6zM208.9,207.4h.6v.6h-.6zM211.1,226.4h.7v.7h-.7zM216.3,229.5h.6v.6h-.6zM209.6,209.4h.6v.6h-.6zM215.4,221.9h.6v.6h-.6zM207.8,212.9h.6v.6h-.6zM214.3,219.7h.6v.6h-.6zM209.2,206.7h.6v.6h-.6zM214.8,230.3h.6v.6h-.6zM212.3,218.5h.7v.7h-.7zM215.5,213.0h.7v.7h-.7zM211.4,216.2h.7v.7h-.7zM212.4,215.8h.7v.7h-.7zM209.2,217.3h.7v.7h-.7zM216.0,212.4h.6v.6h-.6zM210.5,223.6h.7v.7h-.7zM209.1,210.5h.6v.6h-.6zM210.7,211.3h.7v.7h-.7zM214.5,209.2h.7v.7h-.7zM209.8,224.1h.7v.7h-.7zM211.6,225.6h.7v.7h-.7zM214.0,229.1h.6v.6h-.6zM212.3,230.2h.6v.6h-.6zM212.8,210.6h.7v.7h-.7zM216.5,219.2h.6v.6h-.6zM213.1,219.7h.7v.7h-.7zM212.5,222.1h.7v.7h-.7zM212.6,216.6h.7v.7h-.7zM214.8,209.6h.7v.7h-.7zM211.0,208.1h.6v.6h-.6zM216.5,219.4h.6v.6h-.6zM215.2,216.1h.6v.6h-.6zM208.8,225.4h.7v.7h-.7zM207.6,224.1h.6v.6h-.6zM208.1,226.7h.7v.7h-.7zM215.0,210.1h.7v.7h-.7zM213.6,207.1h.6v.6h-.6zM216.6,222.5h.6v.6h-.6zM208.6,210.1h.6v.6h-.6zM216.2,225.8h.6v.6h-.6zM216.0,220.1h.6v.6h-.6zM208.2,218.0h.6v.6h-.6zM214.1,229.1h.6v.6h-.6zM213.5,214.9h.7v.7h-.7zM211.6,220.1h.7v.7h-.7zM213.2,222.0h.7v.7h-.7zM208.0,224.1h.7v.7h-.7zM212.8,207.9h.6v.6h-.6z" fill="#a0a0a0" fill-opacity="0.6"/>
<path d="M214.0,194.8 L206.7,231.5 L210.0,277.0 M142.2,235.5 L206.7,231.5 L223.6,235.5" stroke="#222" stroke-width="0.85" fill="none"/>
<path d="M142.2,194.8 H223.6 V277.0" fill="none" stroke="#909090" stroke-width="0.9"/><path d="M142.2,194.8 V277.0 H223.6" fill="none" stroke="#707070" stroke-width="0.9"/>
<path d="M140.00,276.80 H142.2 M141.00,272.79 H142.2 M141.00,268.77 H142.2 M141.00,264.75 H142.2 M140.00,260.74 H142.2 M141.00,256.73 H142.2 M141.00,252.71 H142.2 M141.00,248.69 H142.2 M140.00,244.68 H142.2 M141.00,240.67 H142.2 M141.00,236.65 H142.2 M141.00,232.63 H142.2 M140.00,228.62 H142.2 M141.00,224.61 H142.2 M141.00,220.59 H142.2 M141.00,216.57 H142.2 M140.00,212.56 H142.2 M141.00,208.55 H142.2 M141.00,204.53 H142.2 M141.00,200.51 H142.2 M140.00,196.50 H142.2 M142.20,277.0 V279.20 M148.33,277.0 V278.20 M151.91,277.0 V278.20 M154.45,277.0 V278.20 M156.42,277.0 V278.20 M158.04,277.0 V278.20 M159.40,277.0 V278.20 M160.58,277.0 V278.20 M161.62,277.0 V278.20 M162.55,277.0 V279.20 M168.68,277.0 V278.20 M172.26,277.0 V278.20 M174.80,277.0 V278.20 M176.77,277.0 V278.20 M178.39,277.0 V278.20 M179.75,277.0 V278.20 M180.93,277.0 V278.20 M181.97,277.0 V278.20 M182.90,277.0 V279.20 M189.03,277.0 V278.20 M192.61,277.0 V278.20 M195.15,277.0 V278.20 M197.12,277.0 V278.20 M198.74,277.0 V278.20 M200.10,277.0 V278.20 M201.28,277.0 V278.20 M202.32,277.0 V278.20 M203.25,277.0 V279.20 M209.38,277.0 V278.20 M212.96,277.0 V278.20 M215.50,277.0 V278.20 M217.47,277.0 V278.20 M219.09,277.0 V278.20 M220.45,277.0 V278.20 M221.63,277.0 V278.20 M222.67,277.0 V278.20 M223.60,277.0 V279.20 " stroke="#333" stroke-width="0.7" fill="none"/>
<text transform="translate(138.90 279.00) scale(1 1.09)" font-size="4.0" fill="#6a6a6a" text-anchor="end" >0</text>
<text transform="translate(138.90 262.94) scale(1 1.09)" font-size="4.0" fill="#6a6a6a" text-anchor="end" >200</text>
<text transform="translate(138.90 246.88) scale(1 1.09)" font-size="4.0" fill="#6a6a6a" text-anchor="end" >400</text>
<text transform="translate(138.90 230.82) scale(1 1.09)" font-size="4.0" fill="#6a6a6a" text-anchor="end" >600</text>
<text transform="translate(138.90 214.76) scale(1 1.09)" font-size="4.0" fill="#6a6a6a" text-anchor="end" >800</text>
<text transform="translate(138.90 198.70) scale(1 1.09)" font-size="4.0" fill="#6a6a6a" text-anchor="end" >1.0K</text>
<text x="143.90" y="285.00" font-size="4.0" fill="#6a6a6a">10<tspan dy="-1.6" font-size="3.0">0</tspan></text>
<text x="161.05" y="285.00" font-size="4.0" fill="#6a6a6a">10<tspan dy="-1.6" font-size="3.0">1</tspan></text>
<text x="181.40" y="285.00" font-size="4.0" fill="#6a6a6a">10<tspan dy="-1.6" font-size="3.0">2</tspan></text>
<text x="201.75" y="285.00" font-size="4.0" fill="#6a6a6a">10<tspan dy="-1.6" font-size="3.0">3</tspan></text>
<text x="218.10" y="285.00" font-size="4.0" fill="#6a6a6a">10<tspan dy="-1.6" font-size="3.0">4</tspan></text>
<text transform="translate(185.90 189.20) scale(1 1.09)" font-size="9.75" fill="#222" text-anchor="middle" >LNPs (siCD45)</text>
<path d="M319.6,210 L316.2,228" stroke="#e0902a" stroke-width="1.0" filter="url(#bl)"/>
<polygon points="319.7,209.2 322.3,207.8 326.4,208.4 326.8,211.0 324.8,218.5 321.6,224.5 318.4,229.4 316.4,230.8 316.2,228.0 317.7,219.0" fill="#8a8a8a" fill-opacity="0.55" filter="url(#bl3)"/>
<polygon points="320.1,210.0 322.3,208.7 325.6,209.2 326.0,211.6 324.3,218.5 321.7,224.0 319.1,228.5 317.4,229.8 317.3,227.3 318.5,219.0" fill="#3c3c3c" fill-opacity="0.95" filter="url(#bl)"/>
<path d="M324.6,211.5h.8v.8h-.8zM319.7,213.7h.8v.8h-.8zM320.4,216.9h.8v.8h-.8zM321.5,208.8h.8v.8h-.8zM319.5,224.3h.8v.8h-.8zM317.3,225.3h.8v.8h-.8zM320.3,224.2h.8v.8h-.8zM321.0,220.4h.8v.8h-.8zM320.9,222.1h.8v.8h-.8zM323.7,213.9h.8v.8h-.8zM319.4,221.2h.8v.8h-.8zM322.1,211.4h.8v.8h-.8zM323.5,210.9h.8v.8h-.8zM318.8,223.5h.8v.8h-.8zM323.2,216.2h.8v.8h-.8zM321.0,208.9h.8v.8h-.8zM325.8,210.1h.8v.8h-.8zM320.7,219.0h.8v.8h-.8zM322.3,220.2h.8v.8h-.8zM323.6,216.0h.8v.8h-.8zM321.3,217.3h.8v.8h-.8zM317.2,225.6h.8v.8h-.8zM324.6,213.6h.8v.8h-.8zM325.5,208.9h.8v.8h-.8zM319.7,209.3h.8v.8h-.8zM324.0,217.4h.8v.8h-.8zM320.6,210.4h.8v.8h-.8zM324.5,211.5h.8v.8h-.8zM320.0,212.6h.8v.8h-.8zM316.7,226.7h.8v.8h-.8zM319.2,220.3h.8v.8h-.8zM318.8,225.2h.8v.8h-.8zM323.8,218.4h.8v.8h-.8zM319.1,221.3h.8v.8h-.8zM317.5,224.3h.8v.8h-.8zM318.9,226.7h.8v.8h-.8zM318.6,215.4h.8v.8h-.8zM322.7,209.3h.8v.8h-.8zM322.4,218.9h.8v.8h-.8zM319.6,226.3h.8v.8h-.8zM317.8,223.4h.8v.8h-.8zM318.1,218.4h.8v.8h-.8zM319.9,209.3h.8v.8h-.8zM318.4,220.3h.8v.8h-.8zM325.7,214.6h.8v.8h-.8zM321.6,221.8h.8v.8h-.8zM322.9,208.0h.8v.8h-.8zM319.8,222.9h.8v.8h-.8zM319.6,219.0h.8v.8h-.8zM324.2,209.2h.8v.8h-.8zM322.1,219.4h.8v.8h-.8zM321.4,213.4h.8v.8h-.8zM323.8,220.3h.8v.8h-.8zM319.0,223.7h.8v.8h-.8zM323.1,221.3h.8v.8h-.8zM320.3,212.2h.8v.8h-.8zM322.6,215.7h.8v.8h-.8zM319.5,219.9h.8v.8h-.8zM325.7,210.2h.8v.8h-.8zM321.2,217.1h.8v.8h-.8zM325.3,210.1h.8v.8h-.8zM320.8,222.8h.8v.8h-.8zM316.8,225.1h.8v.8h-.8zM323.7,215.6h.8v.8h-.8zM321.2,219.9h.8v.8h-.8zM322.5,217.2h.8v.8h-.8zM320.2,209.9h.8v.8h-.8zM322.7,219.0h.8v.8h-.8zM321.2,215.1h.8v.8h-.8zM322.8,208.7h.8v.8h-.8zM321.4,220.1h.8v.8h-.8zM322.6,210.9h.8v.8h-.8zM319.0,218.5h.8v.8h-.8zM319.8,222.1h.8v.8h-.8zM325.6,214.2h.8v.8h-.8zM320.8,210.5h.8v.8h-.8zM317.9,228.4h.8v.8h-.8zM320.7,217.3h.8v.8h-.8zM317.3,228.1h.8v.8h-.8zM319.5,215.8h.8v.8h-.8zM318.7,215.1h.8v.8h-.8zM318.0,219.4h.8v.8h-.8zM318.9,213.2h.8v.8h-.8zM317.1,222.6h.8v.8h-.8zM318.5,223.6h.8v.8h-.8zM319.8,226.8h.8v.8h-.8zM318.5,214.9h.8v.8h-.8zM322.0,209.5h.8v.8h-.8zM321.0,212.3h.8v.8h-.8zM319.2,227.7h.8v.8h-.8zM322.7,219.6h.8v.8h-.8zM323.3,213.9h.8v.8h-.8zM320.4,222.5h.8v.8h-.8zM323.2,215.2h.8v.8h-.8zM321.5,222.4h.8v.8h-.8zM319.6,227.0h.8v.8h-.8z" fill="#2a2a2a" fill-opacity="0.6"/>
<path d="M322.0,225.0h.6v.6h-.6zM319.2,210.0h.6v.6h-.6zM316.8,223.1h.6v.6h-.6zM326.6,224.2h.6v.6h-.6zM325.0,206.6h.6v.6h-.6zM324.2,226.3h.6v.6h-.6zM326.7,218.2h.6v.6h-.6zM324.6,209.9h.7v.7h-.7zM321.5,215.8h.7v.7h-.7zM324.9,226.6h.6v.6h-.6zM320.0,206.3h.6v.6h-.6zM321.6,220.7h.7v.7h-.7zM324.6,228.7h.6v.6h-.6zM317.7,219.9h.7v.7h-.7zM319.0,224.7h.7v.7h-.7zM317.7,226.1h.7v.7h-.7zM319.4,220.5h.7v.7h-.7zM319.6,207.2h.6v.6h-.6zM318.8,208.3h.6v.6h-.6zM327.7,228.6h.6v.6h-.6zM327.9,230.6h.6v.6h-.6zM324.2,230.4h.6v.6h-.6zM318.4,224.8h.7v.7h-.7zM318.7,212.1h.6v.6h-.6zM317.8,229.1h.7v.7h-.7zM318.4,211.7h.6v.6h-.6zM325.0,219.9h.6v.6h-.6zM320.4,228.4h.6v.6h-.6zM327.4,208.7h.6v.6h-.6zM320.1,230.3h.6v.6h-.6zM326.1,214.7h.6v.6h-.6zM318.9,217.0h.7v.7h-.7zM319.0,208.2h.6v.6h-.6zM326.1,220.6h.6v.6h-.6zM322.2,227.7h.6v.6h-.6zM326.2,227.5h.6v.6h-.6zM324.9,215.6h.7v.7h-.7zM317.4,227.7h.7v.7h-.7zM319.3,210.8h.6v.6h-.6zM322.8,223.5h.6v.6h-.6zM326.8,223.9h.6v.6h-.6zM318.3,220.8h.7v.7h-.7zM318.6,226.5h.7v.7h-.7zM321.2,216.6h.7v.7h-.7zM322.8,216.0h.7v.7h-.7zM320.6,217.0h.7v.7h-.7zM327.8,229.2h.6v.6h-.6zM322.6,206.8h.6v.6h-.6zM327.7,213.3h.6v.6h-.6zM327.8,218.9h.6v.6h-.6zM318.1,209.5h.6v.6h-.6zM317.7,219.7h.7v.7h-.7zM320.0,230.5h.6v.6h-.6zM326.8,217.1h.6v.6h-.6zM322.0,224.0h.6v.6h-.6zM320.4,225.6h.7v.7h-.7zM323.4,208.5h.7v.7h-.7zM327.3,206.6h.6v.6h-.6zM323.3,218.5h.7v.7h-.7zM321.8,221.6h.7v.7h-.7zM320.7,219.3h.7v.7h-.7zM326.3,218.9h.6v.6h-.6zM328.2,221.9h.6v.6h-.6zM321.5,225.6h.6v.6h-.6zM324.7,206.4h.6v.6h-.6zM317.9,208.8h.6v.6h-.6zM326.1,207.8h.6v.6h-.6zM319.3,213.9h.7v.7h-.7zM322.3,225.7h.6v.6h-.6zM321.4,207.9h.6v.6h-.6zM326.3,214.9h.6v.6h-.6zM321.1,229.8h.6v.6h-.6zM327.7,218.7h.6v.6h-.6zM320.1,207.9h.6v.6h-.6zM320.0,216.2h.7v.7h-.7zM318.2,213.1h.6v.6h-.6z" fill="#a0a0a0" fill-opacity="0.6"/>
<path d="M322.8,194.8 L315.9,231.4 L319.0,277.0 M250.2,235.5 L315.9,231.4 L332.5,235.4" stroke="#222" stroke-width="0.85" fill="none"/>
<path d="M250.2,194.8 H332.5 V277.0" fill="none" stroke="#909090" stroke-width="0.9"/><path d="M250.2,194.8 V277.0 H332.5" fill="none" stroke="#707070" stroke-width="0.9"/>
<path d="M248.00,276.80 H250.2 M249.00,272.79 H250.2 M249.00,268.77 H250.2 M249.00,264.75 H250.2 M248.00,260.74 H250.2 M249.00,256.73 H250.2 M249.00,252.71 H250.2 M249.00,248.69 H250.2 M248.00,244.68 H250.2 M249.00,240.67 H250.2 M249.00,236.65 H250.2 M249.00,232.63 H250.2 M248.00,228.62 H250.2 M249.00,224.61 H250.2 M249.00,220.59 H250.2 M249.00,216.57 H250.2 M248.00,212.56 H250.2 M249.00,208.55 H250.2 M249.00,204.53 H250.2 M249.00,200.51 H250.2 M248.00,196.50 H250.2 M250.20,277.0 V279.20 M256.39,277.0 V278.20 M260.02,277.0 V278.20 M262.59,277.0 V278.20 M264.58,277.0 V278.20 M266.21,277.0 V278.20 M267.59,277.0 V278.20 M268.78,277.0 V278.20 M269.83,277.0 V278.20 M270.77,277.0 V279.20 M276.97,277.0 V278.20 M280.59,277.0 V278.20 M283.16,277.0 V278.20 M285.16,277.0 V278.20 M286.79,277.0 V278.20 M288.16,277.0 V278.20 M289.36,277.0 V278.20 M290.41,277.0 V278.20 M291.35,277.0 V279.20 M297.54,277.0 V278.20 M301.17,277.0 V278.20 M303.74,277.0 V278.20 M305.73,277.0 V278.20 M307.36,277.0 V278.20 M308.74,277.0 V278.20 M309.93,277.0 V278.20 M310.98,277.0 V278.20 M311.93,277.0 V279.20 M318.12,277.0 V278.20 M321.74,277.0 V278.20 M324.31,277.0 V278.20 M326.31,277.0 V278.20 M327.94,277.0 V278.20 M329.31,277.0 V278.20 M330.51,277.0 V278.20 M331.56,277.0 V278.20 M332.50,277.0 V279.20 " stroke="#333" stroke-width="0.7" fill="none"/>
<text transform="translate(246.90 279.00) scale(1 1.09)" font-size="4.0" fill="#6a6a6a" text-anchor="end" >0</text>
<text transform="translate(246.90 262.94) scale(1 1.09)" font-size="4.0" fill="#6a6a6a" text-anchor="end" >200</text>
<text transform="translate(246.90 246.88) scale(1 1.09)" font-size="4.0" fill="#6a6a6a" text-anchor="end" >400</text>
<text transform="translate(246.90 230.82) scale(1 1.09)" font-size="4.0" fill="#6a6a6a" text-anchor="end" >600</text>
<text transform="translate(246.90 214.76) scale(1 1.09)" font-size="4.0" fill="#6a6a6a" text-anchor="end" >800</text>
<text transform="translate(246.90 198.70) scale(1 1.09)" font-size="4.0" fill="#6a6a6a" text-anchor="end" >1.0K</text>
<text x="251.90" y="285.00" font-size="4.0" fill="#6a6a6a">10<tspan dy="-1.6" font-size="3.0">0</tspan></text>
<text x="269.27" y="285.00" font-size="4.0" fill="#6a6a6a">10<tspan dy="-1.6" font-size="3.0">1</tspan></text>
<text x="289.85" y="285.00" font-size="4.0" fill="#6a6a6a">10<tspan dy="-1.6" font-size="3.0">2</tspan></text>
<text x="310.43" y="285.00" font-size="4.0" fill="#6a6a6a">10<tspan dy="-1.6" font-size="3.0">3</tspan></text>
<text x="327.00" y="285.00" font-size="4.0" fill="#6a6a6a">10<tspan dy="-1.6" font-size="3.0">4</tspan></text>
<text transform="translate(290.35 189.20) scale(1 1.09)" font-size="9.75" fill="#222" text-anchor="middle" >Iso LNPs (siCD45)</text>
<path d="M405,222.5 L410,215.5 L419,212.2 L428.5,211.5 L426.4,229.2 L414,228.8 L406,226.5 Z" fill="#f9c080" fill-opacity="0.7" filter="url(#bl2)"/>
<path d="M413.6,219.8h.8v.8h-.8zM425.1,226.8h.8v.8h-.8zM415.1,215.8h.8v.8h-.8zM417.5,221.8h.8v.8h-.8zM417.9,223.5h.8v.8h-.8zM414.2,224.8h.8v.8h-.8zM420.6,222.3h.8v.8h-.8zM413.8,219.8h.8v.8h-.8zM419.8,217.5h.8v.8h-.8zM415.1,218.8h.8v.8h-.8zM408.3,223.7h.8v.8h-.8zM415.9,221.6h.8v.8h-.8zM420.8,216.1h.8v.8h-.8zM415.6,222.5h.8v.8h-.8zM420.6,217.6h.8v.8h-.8zM419.9,222.3h.8v.8h-.8zM423.5,225.6h.8v.8h-.8zM419.0,229.2h.8v.8h-.8zM416.0,220.0h.8v.8h-.8zM414.1,218.1h.8v.8h-.8zM415.8,214.7h.8v.8h-.8zM415.5,223.0h.8v.8h-.8zM421.5,220.2h.8v.8h-.8zM423.6,219.2h.8v.8h-.8zM415.3,214.7h.8v.8h-.8zM411.8,218.7h.8v.8h-.8zM424.0,223.4h.8v.8h-.8zM410.1,223.4h.8v.8h-.8zM418.6,220.7h.8v.8h-.8zM416.1,220.4h.8v.8h-.8zM413.1,215.3h.8v.8h-.8zM415.5,226.0h.8v.8h-.8zM423.7,220.5h.8v.8h-.8zM412.0,220.8h.8v.8h-.8zM420.8,222.7h.8v.8h-.8zM412.9,222.8h.8v.8h-.8zM414.9,223.3h.8v.8h-.8zM413.8,216.3h.8v.8h-.8zM416.3,224.2h.8v.8h-.8zM410.1,221.1h.8v.8h-.8zM420.7,220.2h.8v.8h-.8zM412.5,228.6h.8v.8h-.8zM420.4,225.1h.8v.8h-.8zM410.9,227.2h.8v.8h-.8zM407.1,219.7h.8v.8h-.8zM420.0,226.2h.8v.8h-.8zM411.0,219.2h.8v.8h-.8zM417.1,214.7h.8v.8h-.8zM419.4,223.5h.8v.8h-.8zM413.6,223.4h.8v.8h-.8zM420.1,222.6h.8v.8h-.8zM418.8,226.8h.8v.8h-.8zM413.4,222.1h.8v.8h-.8zM413.2,225.1h.8v.8h-.8zM413.8,223.2h.8v.8h-.8zM416.7,221.7h.8v.8h-.8zM425.2,221.2h.8v.8h-.8zM423.6,224.4h.8v.8h-.8zM423.0,220.9h.8v.8h-.8zM420.9,224.1h.8v.8h-.8zM412.7,222.4h.8v.8h-.8zM415.3,221.4h.8v.8h-.8zM422.9,219.0h.8v.8h-.8zM407.1,215.4h.8v.8h-.8zM413.6,219.3h.8v.8h-.8zM416.1,223.5h.8v.8h-.8zM425.3,222.6h.8v.8h-.8zM418.5,218.9h.8v.8h-.8zM419.1,226.2h.8v.8h-.8zM423.1,214.7h.8v.8h-.8zM420.7,227.0h.8v.8h-.8zM420.4,216.3h.8v.8h-.8zM414.4,223.5h.8v.8h-.8zM418.2,218.7h.8v.8h-.8zM411.3,224.9h.8v.8h-.8zM408.9,226.5h.8v.8h-.8zM416.1,222.5h.8v.8h-.8zM408.9,219.4h.8v.8h-.8zM419.6,216.4h.8v.8h-.8zM427.0,216.6h.8v.8h-.8zM409.5,221.6h.8v.8h-.8zM418.5,224.0h.8v.8h-.8zM414.0,220.8h.8v.8h-.8zM414.8,219.5h.8v.8h-.8zM402.4,224.8h.8v.8h-.8zM417.3,222.0h.8v.8h-.8zM412.7,222.4h.8v.8h-.8zM415.9,221.2h.8v.8h-.8zM421.8,215.5h.8v.8h-.8zM417.3,217.8h.8v.8h-.8zM414.3,226.7h.8v.8h-.8zM410.3,221.2h.8v.8h-.8zM412.9,224.8h.8v.8h-.8zM410.8,215.7h.8v.8h-.8zM418.7,220.3h.8v.8h-.8zM414.3,225.2h.8v.8h-.8zM411.3,220.2h.8v.8h-.8zM416.8,222.9h.8v.8h-.8zM413.3,225.1h.8v.8h-.8zM425.9,214.2h.8v.8h-.8zM423.4,220.3h.8v.8h-.8zM416.7,220.3h.8v.8h-.8zM412.6,217.1h.8v.8h-.8zM413.9,226.0h.8v.8h-.8zM422.0,220.3h.8v.8h-.8zM413.2,219.1h.8v.8h-.8zM409.7,227.7h.8v.8h-.8zM419.5,221.9h.8v.8h-.8zM413.4,218.0h.8v.8h-.8zM423.0,224.2h.8v.8h-.8zM411.0,224.9h.8v.8h-.8zM410.2,223.7h.8v.8h-.8zM410.9,220.1h.8v.8h-.8zM418.6,223.0h.8v.8h-.8zM421.3,218.6h.8v.8h-.8zM424.3,226.1h.8v.8h-.8zM415.9,223.1h.8v.8h-.8zM411.9,221.0h.8v.8h-.8zM409.0,221.8h.8v.8h-.8zM417.1,226.1h.8v.8h-.8zM421.0,224.3h.8v.8h-.8zM414.1,220.7h.8v.8h-.8zM414.2,222.3h.8v.8h-.8zM405.8,224.2h.8v.8h-.8zM407.7,219.7h.8v.8h-.8zM416.1,219.7h.8v.8h-.8zM424.8,221.2h.8v.8h-.8zM424.3,225.6h.8v.8h-.8zM413.4,222.9h.8v.8h-.8zM422.9,220.3h.8v.8h-.8zM416.5,219.6h.8v.8h-.8zM416.3,220.3h.8v.8h-.8zM416.4,225.0h.8v.8h-.8zM423.4,222.0h.8v.8h-.8zM417.1,224.5h.8v.8h-.8zM414.5,217.8h.8v.8h-.8zM421.9,218.3h.8v.8h-.8zM420.9,218.2h.8v.8h-.8zM425.7,217.9h.8v.8h-.8zM420.5,226.7h.8v.8h-.8zM410.9,226.6h.8v.8h-.8zM411.7,215.4h.8v.8h-.8zM419.8,223.9h.8v.8h-.8zM414.9,212.8h.8v.8h-.8zM415.7,220.4h.8v.8h-.8zM414.0,220.5h.8v.8h-.8zM406.5,219.5h.8v.8h-.8zM425.5,226.8h.8v.8h-.8zM414.1,219.0h.8v.8h-.8zM418.1,225.2h.8v.8h-.8zM419.8,217.5h.8v.8h-.8zM416.9,222.0h.8v.8h-.8zM423.6,225.6h.8v.8h-.8zM418.8,225.7h.8v.8h-.8zM413.9,226.8h.8v.8h-.8zM413.8,222.9h.8v.8h-.8zM420.8,218.3h.8v.8h-.8zM412.3,215.4h.8v.8h-.8zM416.9,221.3h.8v.8h-.8zM414.3,223.2h.8v.8h-.8zM404.8,221.4h.8v.8h-.8zM416.5,220.6h.8v.8h-.8zM420.2,227.6h.8v.8h-.8zM413.6,218.3h.8v.8h-.8zM412.8,221.8h.8v.8h-.8zM419.1,218.5h.8v.8h-.8zM421.3,218.0h.8v.8h-.8zM420.4,223.0h.8v.8h-.8zM418.4,229.0h.8v.8h-.8zM414.6,220.9h.8v.8h-.8zM418.5,224.5h.8v.8h-.8zM408.9,222.5h.8v.8h-.8zM412.1,223.7h.8v.8h-.8zM423.2,221.7h.8v.8h-.8zM415.4,222.1h.8v.8h-.8zM400.4,224.2h.8v.8h-.8zM419.0,222.1h.8v.8h-.8zM413.9,219.0h.8v.8h-.8zM415.1,225.7h.8v.8h-.8zM415.5,226.2h.8v.8h-.8zM402.4,219.9h.8v.8h-.8zM417.4,221.5h.8v.8h-.8zM407.2,219.2h.8v.8h-.8zM422.6,217.0h.8v.8h-.8zM410.8,217.7h.8v.8h-.8zM413.1,223.7h.8v.8h-.8zM419.1,214.5h.8v.8h-.8zM423.7,219.5h.8v.8h-.8zM412.9,227.3h.8v.8h-.8zM415.6,217.2h.8v.8h-.8zM412.6,219.0h.8v.8h-.8zM410.7,220.3h.8v.8h-.8zM420.6,222.7h.8v.8h-.8zM408.7,231.1h.8v.8h-.8zM410.8,221.9h.8v.8h-.8zM416.2,224.1h.8v.8h-.8zM414.3,223.1h.8v.8h-.8zM427.1,221.8h.8v.8h-.8zM410.3,222.6h.8v.8h-.8zM411.8,220.2h.8v.8h-.8zM417.0,222.7h.8v.8h-.8zM414.5,224.4h.8v.8h-.8zM415.0,217.0h.8v.8h-.8zM420.6,220.2h.8v.8h-.8zM422.4,219.2h.8v.8h-.8zM419.0,222.6h.8v.8h-.8zM401.8,216.3h.8v.8h-.8zM410.1,226.4h.8v.8h-.8zM406.0,224.7h.8v.8h-.8zM421.8,223.2h.8v.8h-.8zM419.6,219.8h.8v.8h-.8zM415.9,222.3h.8v.8h-.8zM418.2,223.9h.8v.8h-.8zM414.9,219.1h.8v.8h-.8zM413.0,222.9h.8v.8h-.8zM407.2,217.2h.8v.8h-.8zM413.8,219.6h.8v.8h-.8zM414.6,212.3h.8v.8h-.8zM414.2,220.6h.8v.8h-.8zM420.1,214.7h.8v.8h-.8zM414.4,223.1h.8v.8h-.8zM418.6,225.6h.8v.8h-.8zM421.6,217.9h.8v.8h-.8zM419.4,220.3h.8v.8h-.8zM411.8,226.8h.8v.8h-.8zM412.7,218.5h.8v.8h-.8zM413.8,218.6h.8v.8h-.8zM421.3,222.8h.8v.8h-.8zM423.4,222.9h.8v.8h-.8zM412.7,225.1h.8v.8h-.8zM412.5,219.9h.8v.8h-.8zM415.1,221.6h.8v.8h-.8zM422.3,219.4h.8v.8h-.8zM417.9,221.4h.8v.8h-.8zM409.3,217.7h.8v.8h-.8zM414.8,222.9h.8v.8h-.8zM417.7,223.2h.8v.8h-.8zM416.3,219.9h.8v.8h-.8zM418.3,218.0h.8v.8h-.8zM408.9,220.3h.8v.8h-.8zM408.4,219.7h.8v.8h-.8zM412.0,219.6h.8v.8h-.8zM415.8,218.7h.8v.8h-.8zM413.8,215.6h.8v.8h-.8zM416.8,218.4h.8v.8h-.8zM418.1,211.7h.8v.8h-.8zM411.7,222.3h.8v.8h-.8zM403.1,220.2h.8v.8h-.8zM416.5,221.9h.8v.8h-.8zM408.1,222.3h.8v.8h-.8zM416.8,218.1h.8v.8h-.8zM419.9,221.3h.8v.8h-.8zM416.1,219.9h.8v.8h-.8zM418.9,221.8h.8v.8h-.8zM422.0,223.1h.8v.8h-.8zM412.7,220.7h.8v.8h-.8zM420.9,220.2h.8v.8h-.8zM418.0,223.3h.8v.8h-.8zM415.0,213.4h.8v.8h-.8zM416.7,222.2h.8v.8h-.8zM416.7,218.9h.8v.8h-.8zM422.4,221.0h.8v.8h-.8zM412.7,219.0h.8v.8h-.8zM417.9,217.7h.8v.8h-.8zM410.7,228.5h.8v.8h-.8zM423.0,225.2h.8v.8h-.8zM423.3,223.6h.8v.8h-.8zM407.0,225.7h.8v.8h-.8zM422.6,223.2h.8v.8h-.8zM405.6,225.8h.8v.8h-.8zM423.3,219.8h.8v.8h-.8zM416.7,224.2h.8v.8h-.8zM415.5,225.3h.8v.8h-.8zM416.4,223.9h.8v.8h-.8zM416.5,216.3h.8v.8h-.8zM410.7,232.5h.8v.8h-.8zM417.5,226.1h.8v.8h-.8zM422.1,227.5h.8v.8h-.8zM419.0,219.4h.8v.8h-.8zM416.1,214.8h.8v.8h-.8zM415.0,224.7h.8v.8h-.8zM404.5,222.2h.8v.8h-.8zM420.4,226.1h.8v.8h-.8zM411.1,219.2h.8v.8h-.8zM406.0,217.9h.8v.8h-.8zM418.8,228.7h.8v.8h-.8zM409.9,226.3h.8v.8h-.8zM418.3,219.8h.8v.8h-.8zM427.7,212.7h.8v.8h-.8zM415.6,222.3h.8v.8h-.8zM421.2,226.3h.8v.8h-.8zM418.7,222.8h.8v.8h-.8zM415.0,220.1h.8v.8h-.8zM409.4,228.3h.8v.8h-.8zM413.6,214.2h.8v.8h-.8zM417.4,221.4h.8v.8h-.8zM416.9,227.9h.8v.8h-.8zM415.4,220.6h.8v.8h-.8zM412.0,221.4h.8v.8h-.8zM413.7,222.2h.8v.8h-.8zM411.4,228.3h.8v.8h-.8zM420.6,224.4h.8v.8h-.8zM419.8,224.4h.8v.8h-.8zM419.6,226.4h.8v.8h-.8zM421.4,226.2h.8v.8h-.8zM413.3,221.5h.8v.8h-.8zM412.1,224.9h.8v.8h-.8zM420.4,219.9h.8v.8h-.8zM419.1,230.7h.8v.8h-.8zM422.6,217.6h.8v.8h-.8zM415.5,223.7h.8v.8h-.8zM415.8,222.9h.8v.8h-.8zM422.3,222.7h.8v.8h-.8zM410.1,224.0h.8v.8h-.8zM415.5,221.9h.8v.8h-.8zM413.0,216.7h.8v.8h-.8zM409.3,220.3h.8v.8h-.8zM410.3,212.0h.8v.8h-.8zM422.1,217.4h.8v.8h-.8zM412.1,223.4h.8v.8h-.8zM403.1,226.2h.8v.8h-.8zM411.9,223.8h.8v.8h-.8zM413.4,222.6h.8v.8h-.8zM416.6,221.5h.8v.8h-.8zM406.2,216.3h.8v.8h-.8zM415.8,226.4h.8v.8h-.8zM413.1,223.4h.8v.8h-.8zM416.9,223.2h.8v.8h-.8zM421.3,216.2h.8v.8h-.8zM417.5,220.9h.8v.8h-.8zM414.3,218.5h.8v.8h-.8zM411.8,217.9h.8v.8h-.8zM410.1,230.3h.8v.8h-.8zM425.1,221.5h.8v.8h-.8zM420.0,218.1h.8v.8h-.8zM401.1,215.1h.8v.8h-.8zM416.8,226.5h.8v.8h-.8zM415.8,218.0h.8v.8h-.8zM414.7,218.0h.8v.8h-.8zM408.5,220.7h.8v.8h-.8zM413.9,218.7h.8v.8h-.8zM411.3,218.2h.8v.8h-.8zM417.3,226.4h.8v.8h-.8zM414.9,229.3h.8v.8h-.8zM407.3,222.5h.8v.8h-.8zM409.8,220.9h.8v.8h-.8zM416.5,223.5h.8v.8h-.8zM422.1,219.6h.8v.8h-.8zM409.3,220.8h.8v.8h-.8zM417.6,219.0h.8v.8h-.8zM420.8,227.4h.8v.8h-.8zM408.4,222.8h.8v.8h-.8zM421.4,214.8h.8v.8h-.8zM417.1,220.7h.8v.8h-.8zM408.4,226.1h.8v.8h-.8zM417.2,219.8h.8v.8h-.8zM418.4,223.8h.8v.8h-.8zM420.1,223.5h.8v.8h-.8zM418.2,217.4h.8v.8h-.8zM413.7,222.0h.8v.8h-.8zM401.2,229.0h.8v.8h-.8zM414.0,217.8h.8v.8h-.8zM406.2,222.4h.8v.8h-.8zM416.2,219.5h.8v.8h-.8zM413.8,218.4h.8v.8h-.8zM412.0,221.2h.8v.8h-.8zM412.5,223.9h.8v.8h-.8zM415.2,222.0h.8v.8h-.8zM418.2,226.0h.8v.8h-.8zM419.2,222.3h.8v.8h-.8zM415.1,218.7h.8v.8h-.8zM414.2,223.9h.8v.8h-.8zM417.2,220.1h.8v.8h-.8zM408.9,216.1h.8v.8h-.8zM417.7,225.1h.8v.8h-.8zM418.0,216.7h.8v.8h-.8zM414.9,222.3h.8v.8h-.8zM411.1,222.7h.8v.8h-.8zM414.9,218.6h.8v.8h-.8zM409.3,224.3h.8v.8h-.8zM417.9,218.4h.8v.8h-.8zM410.6,224.6h.8v.8h-.8zM419.2,220.4h.8v.8h-.8zM424.5,220.5h.8v.8h-.8zM410.3,225.3h.8v.8h-.8zM415.0,222.7h.8v.8h-.8zM416.2,218.0h.8v.8h-.8zM409.6,220.8h.8v.8h-.8zM423.5,218.0h.8v.8h-.8zM423.3,222.3h.8v.8h-.8zM410.0,222.4h.8v.8h-.8zM419.0,218.3h.8v.8h-.8zM404.6,222.7h.8v.8h-.8zM410.1,223.0h.8v.8h-.8zM405.8,221.0h.8v.8h-.8zM411.7,216.3h.8v.8h-.8zM414.7,222.1h.8v.8h-.8zM413.0,217.4h.8v.8h-.8zM417.1,215.4h.8v.8h-.8zM418.9,223.2h.8v.8h-.8zM425.0,224.6h.8v.8h-.8zM417.9,222.4h.8v.8h-.8zM416.1,216.9h.8v.8h-.8zM423.8,223.3h.8v.8h-.8zM414.5,217.5h.8v.8h-.8zM423.9,223.4h.8v.8h-.8zM409.7,223.9h.8v.8h-.8zM426.1,221.4h.8v.8h-.8zM418.1,220.0h.8v.8h-.8zM412.6,225.3h.8v.8h-.8zM415.3,224.3h.8v.8h-.8zM414.4,224.0h.8v.8h-.8zM420.4,217.9h.8v.8h-.8zM410.3,221.2h.8v.8h-.8zM420.4,222.5h.8v.8h-.8z" fill="#f39a35" fill-opacity="0.4"/>
<path d="M427.4,213.0 L426.3,228.8 L419,228.6 L412.5,226.2 L417.5,220 L423,215.8 Z" fill="#f58a12" fill-opacity="0.95" filter="url(#bl3)"/>
<path d="M425.2,217.8h.8v.8h-.8zM422.7,220.4h.8v.8h-.8zM421.3,223.6h.8v.8h-.8zM417.7,221.7h.8v.8h-.8zM417.0,223.4h.8v.8h-.8zM418.1,220.8h.8v.8h-.8zM421.7,220.3h.8v.8h-.8zM424.9,220.3h.8v.8h-.8zM423.9,223.5h.8v.8h-.8zM417.5,221.8h.8v.8h-.8zM418.2,221.3h.8v.8h-.8zM420.1,228.7h.8v.8h-.8zM419.6,227.8h.8v.8h-.8zM422.5,218.1h.8v.8h-.8zM413.2,224.8h.8v.8h-.8zM414.2,224.9h.8v.8h-.8zM424.5,223.8h.8v.8h-.8zM420.3,221.6h.8v.8h-.8zM421.9,221.5h.8v.8h-.8zM419.2,221.2h.8v.8h-.8zM425.0,220.4h.8v.8h-.8zM422.3,218.6h.8v.8h-.8zM418.6,217.8h.8v.8h-.8zM420.3,224.8h.8v.8h-.8zM422.0,220.8h.8v.8h-.8zM423.1,221.3h.8v.8h-.8zM422.3,223.4h.8v.8h-.8zM422.8,214.1h.8v.8h-.8zM416.6,225.1h.8v.8h-.8zM420.6,230.1h.8v.8h-.8zM420.2,220.6h.8v.8h-.8zM426.1,224.4h.8v.8h-.8zM420.3,225.0h.8v.8h-.8zM418.3,221.0h.8v.8h-.8zM419.1,221.7h.8v.8h-.8zM423.6,220.9h.8v.8h-.8zM422.1,220.8h.8v.8h-.8zM424.0,213.2h.8v.8h-.8zM420.3,223.1h.8v.8h-.8zM417.3,225.9h.8v.8h-.8zM421.7,226.8h.8v.8h-.8zM424.3,224.7h.8v.8h-.8zM420.5,218.8h.8v.8h-.8zM420.3,220.9h.8v.8h-.8zM421.8,220.9h.8v.8h-.8zM425.0,220.9h.8v.8h-.8zM420.2,225.6h.8v.8h-.8zM421.0,218.4h.8v.8h-.8zM422.4,221.8h.8v.8h-.8zM414.0,223.2h.8v.8h-.8zM417.4,220.0h.8v.8h-.8zM422.6,223.5h.8v.8h-.8zM420.0,229.8h.8v.8h-.8zM422.4,220.4h.8v.8h-.8zM421.8,222.1h.8v.8h-.8zM413.6,217.2h.8v.8h-.8zM416.3,229.5h.8v.8h-.8zM420.4,221.6h.8v.8h-.8zM419.1,225.8h.8v.8h-.8zM421.1,228.3h.8v.8h-.8zM423.7,228.1h.8v.8h-.8zM420.6,223.8h.8v.8h-.8zM419.5,221.9h.8v.8h-.8zM415.2,220.5h.8v.8h-.8zM417.8,220.3h.8v.8h-.8zM425.1,223.4h.8v.8h-.8zM425.1,225.4h.8v.8h-.8zM424.1,225.9h.8v.8h-.8zM419.0,225.2h.8v.8h-.8zM419.9,220.7h.8v.8h-.8zM425.0,229.8h.8v.8h-.8zM417.7,228.4h.8v.8h-.8zM423.8,219.6h.8v.8h-.8zM421.9,223.8h.8v.8h-.8zM422.3,221.3h.8v.8h-.8zM416.7,222.6h.8v.8h-.8zM423.9,225.1h.8v.8h-.8zM423.2,226.2h.8v.8h-.8zM417.7,222.4h.8v.8h-.8zM422.1,225.9h.8v.8h-.8zM421.5,224.2h.8v.8h-.8zM421.5,229.6h.8v.8h-.8zM413.6,222.4h.8v.8h-.8zM414.8,223.0h.8v.8h-.8zM416.2,220.2h.8v.8h-.8zM421.8,228.3h.8v.8h-.8zM422.6,224.8h.8v.8h-.8zM424.4,223.2h.8v.8h-.8zM418.1,222.2h.8v.8h-.8zM422.1,221.6h.8v.8h-.8zM418.7,221.3h.8v.8h-.8zM415.9,219.0h.8v.8h-.8zM420.7,221.3h.8v.8h-.8zM421.1,227.2h.8v.8h-.8zM422.0,222.4h.8v.8h-.8zM417.0,218.9h.8v.8h-.8zM422.3,219.6h.8v.8h-.8zM422.4,218.9h.8v.8h-.8zM421.5,222.3h.8v.8h-.8zM424.4,221.2h.8v.8h-.8zM419.7,223.3h.8v.8h-.8zM421.2,228.2h.8v.8h-.8zM420.1,220.7h.8v.8h-.8zM419.9,224.1h.8v.8h-.8zM421.8,224.8h.8v.8h-.8zM416.3,230.8h.8v.8h-.8zM416.9,223.0h.8v.8h-.8zM422.4,215.0h.8v.8h-.8zM421.0,217.5h.8v.8h-.8zM422.5,227.2h.8v.8h-.8zM424.5,217.4h.8v.8h-.8zM425.7,225.6h.8v.8h-.8zM419.8,224.2h.8v.8h-.8zM426.1,221.4h.8v.8h-.8zM420.9,220.6h.8v.8h-.8zM424.9,215.2h.8v.8h-.8zM425.8,219.2h.8v.8h-.8zM424.1,217.0h.8v.8h-.8zM417.8,220.5h.8v.8h-.8zM423.8,217.0h.8v.8h-.8zM423.0,220.4h.8v.8h-.8zM425.2,221.5h.8v.8h-.8zM422.6,221.9h.8v.8h-.8zM427.0,221.3h.8v.8h-.8zM420.9,229.2h.8v.8h-.8zM421.3,224.8h.8v.8h-.8zM418.5,223.2h.8v.8h-.8zM413.4,222.9h.8v.8h-.8zM418.8,217.4h.8v.8h-.8zM416.2,226.3h.8v.8h-.8zM422.4,217.4h.8v.8h-.8zM427.1,220.2h.8v.8h-.8zM419.8,223.3h.8v.8h-.8zM417.2,217.1h.8v.8h-.8zM418.5,226.5h.8v.8h-.8zM424.2,217.2h.8v.8h-.8zM425.1,222.6h.8v.8h-.8zM422.7,222.7h.8v.8h-.8zM422.4,219.1h.8v.8h-.8zM417.9,220.1h.8v.8h-.8zM419.8,224.6h.8v.8h-.8zM416.9,227.9h.8v.8h-.8zM418.9,220.5h.8v.8h-.8zM423.4,224.0h.8v.8h-.8zM419.9,218.9h.8v.8h-.8zM417.6,217.1h.8v.8h-.8z" fill="#f08010" fill-opacity="0.6"/>
<path d="M387.3,220.6h.6v.6h-.6zM400.6,220.2h.6v.6h-.6zM388.5,220.0h.6v.6h-.6zM391.9,228.5h.6v.6h-.6zM389.3,224.2h.6v.6h-.6zM402.0,218.4h.6v.6h-.6zM392.5,213.5h.6v.6h-.6zM394.6,221.0h.6v.6h-.6zM403.8,223.1h.6v.6h-.6zM388.1,226.2h.6v.6h-.6zM395.0,222.9h.6v.6h-.6zM403.0,221.0h.6v.6h-.6zM393.6,221.8h.6v.6h-.6zM391.7,218.9h.6v.6h-.6zM386.9,215.4h.6v.6h-.6zM394.8,219.1h.6v.6h-.6zM392.2,226.7h.6v.6h-.6zM397.7,218.2h.6v.6h-.6zM386.4,218.7h.6v.6h-.6zM403.2,218.7h.6v.6h-.6zM391.9,218.8h.6v.6h-.6zM392.1,217.4h.6v.6h-.6zM394.9,218.1h.6v.6h-.6zM394.5,215.1h.6v.6h-.6zM391.9,222.0h.6v.6h-.6zM400.9,220.8h.6v.6h-.6zM398.0,217.9h.6v.6h-.6zM399.3,219.8h.6v.6h-.6zM401.9,220.3h.6v.6h-.6zM385.7,216.0h.6v.6h-.6z" fill="#f5c890" fill-opacity="0.6"/>
<polygon points="429.6,209.0 432.0,208.0 435.6,208.6 435.8,212.0 434.4,219.5 431.4,227.0 428.4,230.2 426.2,230.8 426.6,227.0 428.2,218.0" fill="#8a8a8a" fill-opacity="0.55" filter="url(#bl3)"/>
<polygon points="430.0,209.8 432.0,208.9 435.1,209.4 435.3,212.6 434.1,219.5 431.5,226.4 428.9,229.3 427.0,229.9 427.4,226.4 428.8,218.1" fill="#3a3a3a" fill-opacity="0.95" filter="url(#bl)"/>
<path d="M434.8,213.6h.8v.8h-.8zM429.6,210.4h.8v.8h-.8zM428.4,224.4h.8v.8h-.8zM428.8,214.3h.8v.8h-.8zM428.9,228.6h.8v.8h-.8zM430.0,210.2h.8v.8h-.8zM431.7,220.1h.8v.8h-.8zM434.7,213.2h.8v.8h-.8zM433.4,212.8h.8v.8h-.8zM427.1,226.6h.8v.8h-.8zM435.3,209.2h.8v.8h-.8zM430.9,226.1h.8v.8h-.8zM428.7,227.7h.8v.8h-.8zM433.8,220.5h.8v.8h-.8zM432.8,213.2h.8v.8h-.8zM428.1,223.6h.8v.8h-.8zM433.2,213.2h.8v.8h-.8zM430.5,223.5h.8v.8h-.8zM433.4,209.9h.8v.8h-.8zM430.3,214.5h.8v.8h-.8zM429.0,225.8h.8v.8h-.8zM427.0,225.4h.8v.8h-.8zM432.0,216.8h.8v.8h-.8zM430.9,218.9h.8v.8h-.8zM434.2,217.5h.8v.8h-.8zM428.7,216.3h.8v.8h-.8zM428.8,224.4h.8v.8h-.8zM431.3,211.3h.8v.8h-.8zM426.8,227.5h.8v.8h-.8zM433.4,212.9h.8v.8h-.8zM431.5,209.0h.8v.8h-.8zM428.3,225.4h.8v.8h-.8zM427.9,220.2h.8v.8h-.8zM430.8,226.2h.8v.8h-.8zM432.9,215.7h.8v.8h-.8zM427.2,228.1h.8v.8h-.8zM430.8,209.0h.8v.8h-.8zM432.9,222.0h.8v.8h-.8zM428.2,228.6h.8v.8h-.8zM429.1,216.0h.8v.8h-.8zM429.2,229.1h.8v.8h-.8zM435.3,210.5h.8v.8h-.8zM433.3,220.9h.8v.8h-.8zM429.8,216.1h.8v.8h-.8zM433.6,211.5h.8v.8h-.8zM427.9,230.2h.8v.8h-.8zM430.4,208.8h.8v.8h-.8zM430.6,213.9h.8v.8h-.8zM427.9,223.3h.8v.8h-.8zM432.2,217.6h.8v.8h-.8zM431.4,223.7h.8v.8h-.8zM429.9,215.0h.8v.8h-.8zM429.6,212.6h.8v.8h-.8zM432.3,209.0h.8v.8h-.8zM430.0,221.7h.8v.8h-.8zM432.3,222.3h.8v.8h-.8zM434.7,212.5h.8v.8h-.8zM433.0,222.4h.8v.8h-.8zM434.1,213.9h.8v.8h-.8zM434.9,210.8h.8v.8h-.8zM429.9,216.4h.8v.8h-.8zM431.4,224.2h.8v.8h-.8zM427.0,226.6h.8v.8h-.8zM432.9,222.6h.8v.8h-.8zM430.8,222.3h.8v.8h-.8zM430.6,224.1h.8v.8h-.8zM435.1,212.6h.8v.8h-.8zM432.2,209.2h.8v.8h-.8zM435.1,213.4h.8v.8h-.8zM434.8,211.9h.8v.8h-.8zM429.0,215.8h.8v.8h-.8zM432.3,212.3h.8v.8h-.8zM429.5,229.0h.8v.8h-.8zM430.1,211.5h.8v.8h-.8zM431.8,210.9h.8v.8h-.8zM433.6,219.0h.8v.8h-.8zM431.7,224.5h.8v.8h-.8zM429.2,218.6h.8v.8h-.8zM433.6,210.0h.8v.8h-.8zM431.4,209.9h.8v.8h-.8zM431.0,223.0h.8v.8h-.8zM430.1,216.4h.8v.8h-.8zM428.4,226.6h.8v.8h-.8zM433.1,212.8h.8v.8h-.8zM432.7,223.8h.8v.8h-.8zM427.2,228.7h.8v.8h-.8zM433.6,219.0h.8v.8h-.8zM429.3,222.5h.8v.8h-.8zM432.7,210.9h.8v.8h-.8zM429.4,212.2h.8v.8h-.8zM432.3,223.0h.8v.8h-.8zM431.7,223.0h.8v.8h-.8zM435.0,212.2h.8v.8h-.8zM434.5,215.2h.8v.8h-.8zM434.8,209.6h.8v.8h-.8zM432.8,215.1h.8v.8h-.8zM431.3,210.8h.8v.8h-.8zM434.8,213.8h.8v.8h-.8z" fill="#2a2a2a" fill-opacity="0.6"/>
<path d="M430.1,209.8h.7v.7h-.7zM434.6,222.1h.6v.6h-.6zM435.5,225.8h.6v.6h-.6zM428.2,219.0h.7v.7h-.7zM430.0,207.8h.6v.6h-.6zM430.8,229.9h.6v.6h-.6zM436.4,219.4h.6v.6h-.6zM430.4,229.3h.6v.6h-.6zM436.7,224.5h.6v.6h-.6zM432.2,222.8h.7v.7h-.7zM428.1,214.7h.6v.6h-.6zM431.1,218.7h.7v.7h-.7zM435.1,226.9h.6v.6h-.6zM433.1,226.5h.6v.6h-.6zM429.0,211.9h.6v.6h-.6zM435.6,214.4h.6v.6h-.6zM429.1,227.6h.7v.7h-.7zM435.2,229.9h.6v.6h-.6zM434.3,208.0h.6v.6h-.6zM428.4,221.9h.7v.7h-.7zM429.9,207.6h.6v.6h-.6zM431.7,226.5h.6v.6h-.6zM428.9,212.6h.6v.6h-.6zM428.1,206.8h.6v.6h-.6zM433.8,223.8h.6v.6h-.6zM435.2,207.4h.6v.6h-.6zM436.4,212.9h.6v.6h-.6zM426.9,224.9h.6v.6h-.6zM437.0,223.8h.6v.6h-.6zM427.8,225.6h.7v.7h-.7zM435.3,217.6h.6v.6h-.6zM435.7,227.1h.6v.6h-.6zM428.3,221.2h.7v.7h-.7zM434.8,206.7h.6v.6h-.6zM433.2,222.3h.7v.7h-.7zM435.6,223.9h.6v.6h-.6zM432.4,230.0h.6v.6h-.6zM434.0,230.0h.6v.6h-.6zM429.0,213.5h.7v.7h-.7zM427.0,223.3h.6v.6h-.6zM437.0,223.2h.6v.6h-.6zM429.6,206.7h.6v.6h-.6zM429.1,208.1h.6v.6h-.6zM433.5,218.0h.7v.7h-.7zM435.9,211.7h.6v.6h-.6zM430.5,209.4h.7v.7h-.7zM430.6,228.4h.6v.6h-.6zM429.1,221.0h.7v.7h-.7zM427.6,211.8h.6v.6h-.6zM437.2,221.6h.6v.6h-.6zM435.5,211.4h.7v.7h-.7zM431.5,212.0h.7v.7h-.7zM432.9,228.0h.6v.6h-.6zM431.5,216.4h.7v.7h-.7zM426.9,213.5h.6v.6h-.6zM433.8,225.9h.6v.6h-.6zM433.6,210.9h.7v.7h-.7zM436.9,228.4h.6v.6h-.6zM429.0,213.0h.6v.6h-.6zM426.9,222.9h.6v.6h-.6zM434.2,230.0h.6v.6h-.6zM436.0,220.8h.6v.6h-.6z" fill="#a0a0a0" fill-opacity="0.6"/>
<path d="M432.6,194.8 L425.9,231.3 L428.3,277.0 M360.8,235.4 L425.9,231.3 L442.2,235.8" stroke="#222" stroke-width="0.85" fill="none"/>
<path d="M360.8,194.8 H442.2 V277.0" fill="none" stroke="#909090" stroke-width="0.9"/><path d="M360.8,194.8 V277.0 H442.2" fill="none" stroke="#707070" stroke-width="0.9"/>
<path d="M358.60,276.80 H360.8 M359.60,272.79 H360.8 M359.60,268.77 H360.8 M359.60,264.75 H360.8 M358.60,260.74 H360.8 M359.60,256.73 H360.8 M359.60,252.71 H360.8 M359.60,248.69 H360.8 M358.60,244.68 H360.8 M359.60,240.67 H360.8 M359.60,236.65 H360.8 M359.60,232.63 H360.8 M358.60,228.62 H360.8 M359.60,224.61 H360.8 M359.60,220.59 H360.8 M359.60,216.57 H360.8 M358.60,212.56 H360.8 M359.60,208.55 H360.8 M359.60,204.53 H360.8 M359.60,200.51 H360.8 M358.60,196.50 H360.8 M360.80,277.0 V279.20 M366.93,277.0 V278.20 M370.51,277.0 V278.20 M373.05,277.0 V278.20 M375.02,277.0 V278.20 M376.64,277.0 V278.20 M378.00,277.0 V278.20 M379.18,277.0 V278.20 M380.22,277.0 V278.20 M381.15,277.0 V279.20 M387.28,277.0 V278.20 M390.86,277.0 V278.20 M393.40,277.0 V278.20 M395.37,277.0 V278.20 M396.99,277.0 V278.20 M398.35,277.0 V278.20 M399.53,277.0 V278.20 M400.57,277.0 V278.20 M401.50,277.0 V279.20 M407.63,277.0 V278.20 M411.21,277.0 V278.20 M413.75,277.0 V278.20 M415.72,277.0 V278.20 M417.34,277.0 V278.20 M418.70,277.0 V278.20 M419.88,277.0 V278.20 M420.92,277.0 V278.20 M421.85,277.0 V279.20 M427.98,277.0 V278.20 M431.56,277.0 V278.20 M434.10,277.0 V278.20 M436.07,277.0 V278.20 M437.69,277.0 V278.20 M439.05,277.0 V278.20 M440.23,277.0 V278.20 M441.27,277.0 V278.20 M442.20,277.0 V279.20 " stroke="#333" stroke-width="0.7" fill="none"/>
<text transform="translate(357.50 279.00) scale(1 1.09)" font-size="4.0" fill="#6a6a6a" text-anchor="end" >0</text>
<text transform="translate(357.50 262.94) scale(1 1.09)" font-size="4.0" fill="#6a6a6a" text-anchor="end" >200</text>
<text transform="translate(357.50 246.88) scale(1 1.09)" font-size="4.0" fill="#6a6a6a" text-anchor="end" >400</text>
<text transform="translate(357.50 230.82) scale(1 1.09)" font-size="4.0" fill="#6a6a6a" text-anchor="end" >600</text>
<text transform="translate(357.50 214.76) scale(1 1.09)" font-size="4.0" fill="#6a6a6a" text-anchor="end" >800</text>
<text transform="translate(357.50 198.70) scale(1 1.09)" font-size="4.0" fill="#6a6a6a" text-anchor="end" >1.0K</text>
<text x="362.50" y="285.00" font-size="4.0" fill="#6a6a6a">10<tspan dy="-1.6" font-size="3.0">0</tspan></text>
<text x="379.65" y="285.00" font-size="4.0" fill="#6a6a6a">10<tspan dy="-1.6" font-size="3.0">1</tspan></text>
<text x="400.00" y="285.00" font-size="4.0" fill="#6a6a6a">10<tspan dy="-1.6" font-size="3.0">2</tspan></text>
<text x="420.35" y="285.00" font-size="4.0" fill="#6a6a6a">10<tspan dy="-1.6" font-size="3.0">3</tspan></text>
<text x="436.70" y="285.00" font-size="4.0" fill="#6a6a6a">10<tspan dy="-1.6" font-size="3.0">4</tspan></text>
<text transform="translate(402.50 189.20) scale(1 1.09)" font-size="9.75" fill="#222" text-anchor="middle" >tLNPs (siCD45)</text>
<path d="M537.5,210 L533.8,228" stroke="#f5dca0" stroke-width="1.0" filter="url(#bl)"/>
<polygon points="538.4,208.8 540.2,207.6 542.4,209.4 542.1,213.0 540.4,220.0 538.2,225.0 535.4,229.8 533.6,230.9 534.2,227.0 536.4,217.0" fill="#8a8a8a" fill-opacity="0.55" filter="url(#bl3)"/>
<polygon points="538.5,209.6 539.6,208.5 541.0,210.2 540.8,213.5 539.7,219.9 538.4,224.5 536.6,228.9 535.5,229.9 535.9,226.3 537.3,217.1" fill="#555555" fill-opacity="0.95" filter="url(#bl)"/>
<path d="M535.8,223.4h.8v.8h-.8zM537.4,219.1h.8v.8h-.8zM538.2,218.0h.8v.8h-.8zM537.4,218.3h.8v.8h-.8zM535.6,223.3h.8v.8h-.8zM541.9,211.8h.8v.8h-.8zM536.0,220.5h.8v.8h-.8zM540.3,212.1h.8v.8h-.8zM537.1,222.5h.8v.8h-.8zM541.9,213.8h.8v.8h-.8zM538.6,211.0h.8v.8h-.8zM539.1,219.0h.8v.8h-.8zM540.3,213.0h.8v.8h-.8zM538.7,221.5h.8v.8h-.8zM535.0,230.0h.8v.8h-.8zM536.9,225.1h.8v.8h-.8zM535.8,225.1h.8v.8h-.8zM541.3,209.3h.8v.8h-.8zM541.4,214.6h.8v.8h-.8zM537.6,215.5h.8v.8h-.8zM539.2,218.1h.8v.8h-.8zM541.1,216.7h.8v.8h-.8zM539.1,217.7h.8v.8h-.8zM541.4,212.0h.8v.8h-.8zM537.4,225.1h.8v.8h-.8zM540.2,213.6h.8v.8h-.8zM537.2,218.6h.8v.8h-.8zM536.0,220.8h.8v.8h-.8zM538.8,218.4h.8v.8h-.8zM541.8,212.6h.8v.8h-.8zM539.4,212.9h.8v.8h-.8zM542.0,209.7h.8v.8h-.8zM537.2,215.4h.8v.8h-.8zM537.2,224.9h.8v.8h-.8zM536.2,222.3h.8v.8h-.8zM535.5,223.0h.8v.8h-.8zM535.4,221.9h.8v.8h-.8zM536.5,226.3h.8v.8h-.8zM535.4,226.3h.8v.8h-.8zM539.5,216.1h.8v.8h-.8zM537.6,221.1h.8v.8h-.8zM536.1,218.7h.8v.8h-.8zM538.1,219.6h.8v.8h-.8z" fill="#2a2a2a" fill-opacity="0.6"/>
<path d="M536.8,207.8h.6v.6h-.6zM543.8,206.6h.6v.6h-.6zM543.3,230.2h.6v.6h-.6zM534.6,208.2h.6v.6h-.6zM536.7,225.7h.7v.7h-.7zM543.2,220.0h.6v.6h-.6zM541.1,211.8h.7v.7h-.7zM536.0,223.7h.7v.7h-.7zM540.6,220.1h.6v.6h-.6zM538.3,219.3h.7v.7h-.7zM534.4,224.1h.6v.6h-.6zM536.9,222.0h.7v.7h-.7zM540.1,228.5h.6v.6h-.6zM535.6,229.2h.7v.7h-.7zM538.8,212.4h.7v.7h-.7zM540.2,208.7h.7v.7h-.7zM543.7,228.7h.6v.6h-.6zM534.8,224.7h.7v.7h-.7zM535.1,207.9h.6v.6h-.6zM539.3,226.8h.6v.6h-.6zM537.4,209.2h.6v.6h-.6zM543.6,209.0h.6v.6h-.6zM536.9,217.6h.7v.7h-.7zM537.4,212.2h.6v.6h-.6zM538.7,230.7h.6v.6h-.6zM542.5,214.1h.6v.6h-.6zM542.1,212.4h.7v.7h-.7zM537.8,226.9h.6v.6h-.6zM539.4,214.4h.7v.7h-.7zM534.6,227.7h.7v.7h-.7zM538.6,214.5h.7v.7h-.7zM541.8,227.7h.6v.6h-.6zM537.4,212.3h.6v.6h-.6zM536.3,207.9h.6v.6h-.6zM541.4,211.0h.7v.7h-.7zM537.1,221.8h.7v.7h-.7zM542.7,222.6h.6v.6h-.6zM537.7,215.1h.7v.7h-.7zM540.9,209.2h.7v.7h-.7zM542.0,211.5h.7v.7h-.7zM541.1,229.2h.6v.6h-.6zM535.9,219.7h.7v.7h-.7zM540.7,209.7h.7v.7h-.7zM535.9,228.7h.7v.7h-.7zM543.2,211.2h.6v.6h-.6zM539.6,209.7h.7v.7h-.7zM539.2,210.5h.7v.7h-.7zM541.1,212.9h.7v.7h-.7zM538.4,208.2h.6v.6h-.6zM541.9,222.9h.6v.6h-.6zM538.6,221.9h.7v.7h-.7zM536.2,208.2h.6v.6h-.6zM538.8,217.0h.7v.7h-.7zM538.3,214.8h.7v.7h-.7zM541.2,214.9h.7v.7h-.7zM537.0,219.8h.7v.7h-.7zM541.3,229.6h.6v.6h-.6zM539.9,222.9h.6v.6h-.6zM541.9,206.8h.6v.6h-.6zM537.4,215.7h.7v.7h-.7zM537.9,215.1h.7v.7h-.7zM542.2,210.1h.7v.7h-.7zM534.3,210.9h.6v.6h-.6zM539.5,229.0h.6v.6h-.6zM543.2,216.9h.6v.6h-.6zM535.0,227.7h.7v.7h-.7zM540.0,230.3h.6v.6h-.6zM534.6,209.2h.6v.6h-.6zM541.0,221.7h.6v.6h-.6zM543.8,223.6h.6v.6h-.6zM542.7,221.0h.6v.6h-.6zM543.1,220.0h.6v.6h-.6zM538.2,222.7h.7v.7h-.7zM541.2,216.2h.7v.7h-.7zM540.1,210.0h.7v.7h-.7zM538.9,212.9h.7v.7h-.7zM534.9,229.2h.7v.7h-.7zM535.6,225.0h.7v.7h-.7zM535.1,213.0h.6v.6h-.6zM536.6,224.2h.7v.7h-.7zM538.7,209.0h.7v.7h-.7zM537.5,229.2h.6v.6h-.6zM535.9,218.5h.6v.6h-.6zM535.7,229.2h.7v.7h-.7zM541.8,212.3h.7v.7h-.7zM535.1,228.8h.7v.7h-.7zM540.8,224.6h.6v.6h-.6zM541.6,220.7h.6v.6h-.6zM537.2,206.8h.6v.6h-.6zM541.1,206.1h.6v.6h-.6zM538.3,230.1h.6v.6h-.6zM534.2,211.1h.6v.6h-.6zM535.7,224.1h.7v.7h-.7zM537.6,228.4h.6v.6h-.6zM535.5,210.0h.6v.6h-.6zM539.9,226.0h.6v.6h-.6zM539.0,220.3h.7v.7h-.7zM534.7,216.6h.6v.6h-.6z" fill="#a0a0a0" fill-opacity="0.6"/>
<path d="M541.0,194.8 L533.4,231.4 L537.0,277.0 M468.9,235.4 L533.4,231.4 L551.0,235.3" stroke="#222" stroke-width="0.85" fill="none"/>
<path d="M468.9,194.8 H551.0 V277.0" fill="none" stroke="#909090" stroke-width="0.9"/><path d="M468.9,194.8 V277.0 H551.0" fill="none" stroke="#707070" stroke-width="0.9"/>
<path d="M466.70,276.80 H468.9 M467.70,272.79 H468.9 M467.70,268.77 H468.9 M467.70,264.75 H468.9 M466.70,260.74 H468.9 M467.70,256.73 H468.9 M467.70,252.71 H468.9 M467.70,248.69 H468.9 M466.70,244.68 H468.9 M467.70,240.67 H468.9 M467.70,236.65 H468.9 M467.70,232.63 H468.9 M466.70,228.62 H468.9 M467.70,224.61 H468.9 M467.70,220.59 H468.9 M467.70,216.57 H468.9 M466.70,212.56 H468.9 M467.70,208.55 H468.9 M467.70,204.53 H468.9 M467.70,200.51 H468.9 M466.70,196.50 H468.9 M468.90,277.0 V279.20 M475.08,277.0 V278.20 M478.69,277.0 V278.20 M481.26,277.0 V278.20 M483.25,277.0 V278.20 M484.87,277.0 V278.20 M486.25,277.0 V278.20 M487.44,277.0 V278.20 M488.49,277.0 V278.20 M489.42,277.0 V279.20 M495.60,277.0 V278.20 M499.22,277.0 V278.20 M501.78,277.0 V278.20 M503.77,277.0 V278.20 M505.40,277.0 V278.20 M506.77,277.0 V278.20 M507.96,277.0 V278.20 M509.01,277.0 V278.20 M509.95,277.0 V279.20 M516.13,277.0 V278.20 M519.74,277.0 V278.20 M522.31,277.0 V278.20 M524.30,277.0 V278.20 M525.92,277.0 V278.20 M527.30,277.0 V278.20 M528.49,277.0 V278.20 M529.54,277.0 V278.20 M530.48,277.0 V279.20 M536.65,277.0 V278.20 M540.27,277.0 V278.20 M542.83,277.0 V278.20 M544.82,277.0 V278.20 M546.45,277.0 V278.20 M547.82,277.0 V278.20 M549.01,277.0 V278.20 M550.06,277.0 V278.20 M551.00,277.0 V279.20 " stroke="#333" stroke-width="0.7" fill="none"/>
<text transform="translate(465.60 279.00) scale(1 1.09)" font-size="4.0" fill="#6a6a6a" text-anchor="end" >0</text>
<text transform="translate(465.60 262.94) scale(1 1.09)" font-size="4.0" fill="#6a6a6a" text-anchor="end" >200</text>
<text transform="translate(465.60 246.88) scale(1 1.09)" font-size="4.0" fill="#6a6a6a" text-anchor="end" >400</text>
<text transform="translate(465.60 230.82) scale(1 1.09)" font-size="4.0" fill="#6a6a6a" text-anchor="end" >600</text>
<text transform="translate(465.60 214.76) scale(1 1.09)" font-size="4.0" fill="#6a6a6a" text-anchor="end" >800</text>
<text transform="translate(465.60 198.70) scale(1 1.09)" font-size="4.0" fill="#6a6a6a" text-anchor="end" >1.0K</text>
<text x="470.60" y="285.00" font-size="4.0" fill="#6a6a6a">10<tspan dy="-1.6" font-size="3.0">0</tspan></text>
<text x="487.92" y="285.00" font-size="4.0" fill="#6a6a6a">10<tspan dy="-1.6" font-size="3.0">1</tspan></text>
<text x="508.45" y="285.00" font-size="4.0" fill="#6a6a6a">10<tspan dy="-1.6" font-size="3.0">2</tspan></text>
<text x="528.98" y="285.00" font-size="4.0" fill="#6a6a6a">10<tspan dy="-1.6" font-size="3.0">3</tspan></text>
<text x="545.50" y="285.00" font-size="4.0" fill="#6a6a6a">10<tspan dy="-1.6" font-size="3.0">4</tspan></text>
<text transform="translate(506.45 189.20) scale(1 1.09)" font-size="9.75" fill="#222" text-anchor="middle" >tLNPs (siLuc)</text>
<text transform="translate(21.20 218.20) rotate(-90) scale(1 1.09)" font-size="9.8" fill="#222" text-anchor="start" >FSC</text>
<path d="M16.7,300.5 V233 M16.7,300.5 H453" stroke="#5a5a5a" stroke-width="1.0" fill="none"/>
<path d="M17.0,228.8 L14.8,233.6 L19.2,233.6 Z" fill="#111"/>
<path d="M457.7,300.5 L452.5,298.1 L452.5,302.9 Z" fill="#111"/>
<text transform="translate(478.40 303.90) scale(1 1.09)" font-size="9.6" fill="#222" text-anchor="start" >anti-CD45 APC</text>
</svg></body></html>
